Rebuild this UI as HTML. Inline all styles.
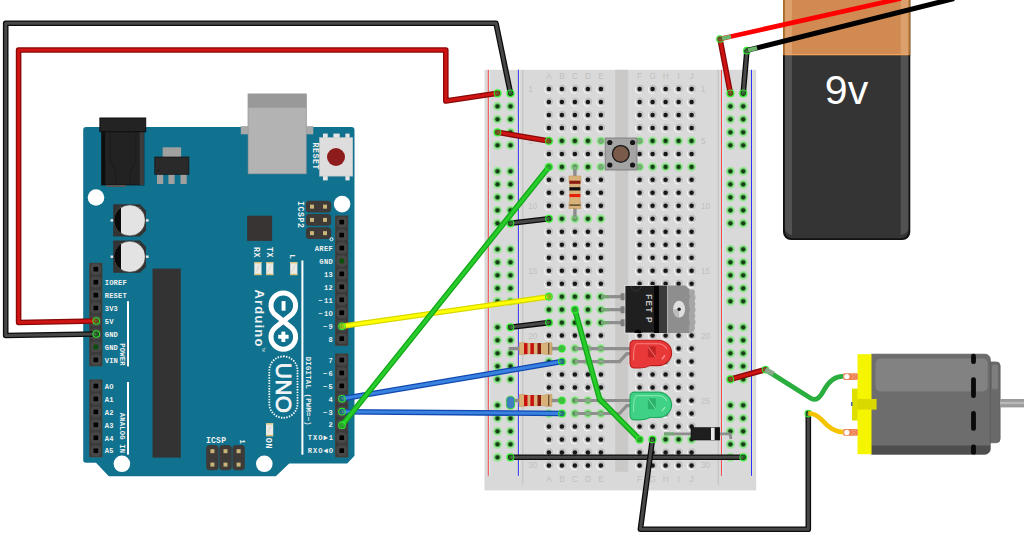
<!DOCTYPE html>
<html><head><meta charset="utf-8"><style>
html,body{margin:0;padding:0;background:#fff;width:1024px;height:537px;overflow:hidden}
svg{display:block}
</style></head><body>
<svg width="1024" height="537" viewBox="0 0 1024 537">
<rect width="1024" height="537" fill="#fff"/>
<rect x="484.5" y="69.8" width="271.7" height="420.6" fill="#d9d9d9"/>
<rect x="522" y="69.8" width="1.4" height="415" fill="#c6c6c6"/>
<rect x="717.6" y="69.8" width="1.4" height="415" fill="#c6c6c6"/>
<rect x="615.2" y="69.8" width="13" height="402" fill="#cbc9c7"/>
<rect x="487.8" y="69.8" width="1" height="406" fill="#ff4646"/>
<rect x="517.9" y="69.8" width="1" height="406" fill="#3030ff"/>
<rect x="721" y="69.8" width="1" height="406" fill="#ff4646"/>
<rect x="751" y="69.8" width="1" height="406" fill="#3030ff"/>
<rect x="489.2" y="69.8" width="1" height="406" fill="#d6eeee"/>
<rect x="519.1" y="69.8" width="1" height="406" fill="#ecead2"/>
<rect x="722.4" y="69.8" width="1" height="406" fill="#d6eeee"/>
<rect x="752.4" y="69.8" width="1" height="406" fill="#ecead2"/>
<g font-family="Liberation Sans, sans-serif" font-size="8.2" fill="#c0c0c0" text-anchor="middle">
<text x="548.9" y="79.4">A</text>
<text x="548.9" y="481.7">A</text>
<text x="561.9" y="79.4">B</text>
<text x="561.9" y="481.7">B</text>
<text x="574.9" y="79.4">C</text>
<text x="574.9" y="481.7">C</text>
<text x="587.9" y="79.4">D</text>
<text x="587.9" y="481.7">D</text>
<text x="600.9" y="79.4">E</text>
<text x="600.9" y="481.7">E</text>
<text x="639.6" y="79.4">F</text>
<text x="639.6" y="481.7">F</text>
<text x="652.6" y="79.4">G</text>
<text x="652.6" y="481.7">G</text>
<text x="665.6" y="79.4">H</text>
<text x="665.6" y="481.7">H</text>
<text x="678.6" y="79.4">I</text>
<text x="678.6" y="481.7">I</text>
<text x="691.6" y="79.4">J</text>
<text x="691.6" y="481.7">J</text>
<text x="528.2" y="92" text-anchor="start">1</text>
<text x="701" y="92" text-anchor="start">1</text>
<text x="528.2" y="143.92" text-anchor="start">5</text>
<text x="701" y="143.92" text-anchor="start">5</text>
<text x="528.2" y="208.82" text-anchor="start">10</text>
<text x="701" y="208.82" text-anchor="start">10</text>
<text x="528.2" y="273.72" text-anchor="start">15</text>
<text x="701" y="273.72" text-anchor="start">15</text>
<text x="528.2" y="338.62" text-anchor="start">20</text>
<text x="701" y="338.62" text-anchor="start">20</text>
<text x="528.2" y="403.52" text-anchor="start">25</text>
<text x="701" y="403.52" text-anchor="start">25</text>
<text x="528.2" y="468.42" text-anchor="start">30</text>
<text x="701" y="468.42" text-anchor="start">30</text>
</g>
<circle cx="548.4" cy="89.5" r="4.2" fill="#f6f6f6"/>
<circle cx="549.2" cy="88.7" r="3.9" fill="#c2c2c2"/>
<circle cx="548.9" cy="89" r="2.25" fill="#161616"/>
<circle cx="561.4" cy="89.5" r="4.2" fill="#f6f6f6"/>
<circle cx="562.2" cy="88.7" r="3.9" fill="#c2c2c2"/>
<circle cx="561.9" cy="89" r="2.25" fill="#161616"/>
<circle cx="574.4" cy="89.5" r="4.2" fill="#f6f6f6"/>
<circle cx="575.2" cy="88.7" r="3.9" fill="#c2c2c2"/>
<circle cx="574.9" cy="89" r="2.25" fill="#161616"/>
<circle cx="587.4" cy="89.5" r="4.2" fill="#f6f6f6"/>
<circle cx="588.2" cy="88.7" r="3.9" fill="#c2c2c2"/>
<circle cx="587.9" cy="89" r="2.25" fill="#161616"/>
<circle cx="600.4" cy="89.5" r="4.2" fill="#f6f6f6"/>
<circle cx="601.2" cy="88.7" r="3.9" fill="#c2c2c2"/>
<circle cx="600.9" cy="89" r="2.25" fill="#161616"/>
<circle cx="639.1" cy="89.5" r="4.2" fill="#f6f6f6"/>
<circle cx="639.9" cy="88.7" r="3.9" fill="#c2c2c2"/>
<circle cx="639.6" cy="89" r="2.25" fill="#161616"/>
<circle cx="652.1" cy="89.5" r="4.2" fill="#f6f6f6"/>
<circle cx="652.9" cy="88.7" r="3.9" fill="#c2c2c2"/>
<circle cx="652.6" cy="89" r="2.25" fill="#161616"/>
<circle cx="665.1" cy="89.5" r="4.2" fill="#f6f6f6"/>
<circle cx="665.9" cy="88.7" r="3.9" fill="#c2c2c2"/>
<circle cx="665.6" cy="89" r="2.25" fill="#161616"/>
<circle cx="678.1" cy="89.5" r="4.2" fill="#f6f6f6"/>
<circle cx="678.9" cy="88.7" r="3.9" fill="#c2c2c2"/>
<circle cx="678.6" cy="89" r="2.25" fill="#161616"/>
<circle cx="691.1" cy="89.5" r="4.2" fill="#f6f6f6"/>
<circle cx="691.9" cy="88.7" r="3.9" fill="#c2c2c2"/>
<circle cx="691.6" cy="89" r="2.25" fill="#161616"/>
<circle cx="548.4" cy="102.48" r="4.2" fill="#f6f6f6"/>
<circle cx="549.2" cy="101.68" r="3.9" fill="#c2c2c2"/>
<circle cx="548.9" cy="101.98" r="2.25" fill="#161616"/>
<circle cx="561.4" cy="102.48" r="4.2" fill="#f6f6f6"/>
<circle cx="562.2" cy="101.68" r="3.9" fill="#c2c2c2"/>
<circle cx="561.9" cy="101.98" r="2.25" fill="#161616"/>
<circle cx="574.4" cy="102.48" r="4.2" fill="#f6f6f6"/>
<circle cx="575.2" cy="101.68" r="3.9" fill="#c2c2c2"/>
<circle cx="574.9" cy="101.98" r="2.25" fill="#161616"/>
<circle cx="587.4" cy="102.48" r="4.2" fill="#f6f6f6"/>
<circle cx="588.2" cy="101.68" r="3.9" fill="#c2c2c2"/>
<circle cx="587.9" cy="101.98" r="2.25" fill="#161616"/>
<circle cx="600.4" cy="102.48" r="4.2" fill="#f6f6f6"/>
<circle cx="601.2" cy="101.68" r="3.9" fill="#c2c2c2"/>
<circle cx="600.9" cy="101.98" r="2.25" fill="#161616"/>
<circle cx="639.1" cy="102.48" r="4.2" fill="#f6f6f6"/>
<circle cx="639.9" cy="101.68" r="3.9" fill="#c2c2c2"/>
<circle cx="639.6" cy="101.98" r="2.25" fill="#161616"/>
<circle cx="652.1" cy="102.48" r="4.2" fill="#f6f6f6"/>
<circle cx="652.9" cy="101.68" r="3.9" fill="#c2c2c2"/>
<circle cx="652.6" cy="101.98" r="2.25" fill="#161616"/>
<circle cx="665.1" cy="102.48" r="4.2" fill="#f6f6f6"/>
<circle cx="665.9" cy="101.68" r="3.9" fill="#c2c2c2"/>
<circle cx="665.6" cy="101.98" r="2.25" fill="#161616"/>
<circle cx="678.1" cy="102.48" r="4.2" fill="#f6f6f6"/>
<circle cx="678.9" cy="101.68" r="3.9" fill="#c2c2c2"/>
<circle cx="678.6" cy="101.98" r="2.25" fill="#161616"/>
<circle cx="691.1" cy="102.48" r="4.2" fill="#f6f6f6"/>
<circle cx="691.9" cy="101.68" r="3.9" fill="#c2c2c2"/>
<circle cx="691.6" cy="101.98" r="2.25" fill="#161616"/>
<circle cx="548.4" cy="115.46" r="4.2" fill="#f6f6f6"/>
<circle cx="549.2" cy="114.66" r="3.9" fill="#c2c2c2"/>
<circle cx="548.9" cy="114.96" r="2.25" fill="#161616"/>
<circle cx="561.4" cy="115.46" r="4.2" fill="#f6f6f6"/>
<circle cx="562.2" cy="114.66" r="3.9" fill="#c2c2c2"/>
<circle cx="561.9" cy="114.96" r="2.25" fill="#161616"/>
<circle cx="574.4" cy="115.46" r="4.2" fill="#f6f6f6"/>
<circle cx="575.2" cy="114.66" r="3.9" fill="#c2c2c2"/>
<circle cx="574.9" cy="114.96" r="2.25" fill="#161616"/>
<circle cx="587.4" cy="115.46" r="4.2" fill="#f6f6f6"/>
<circle cx="588.2" cy="114.66" r="3.9" fill="#c2c2c2"/>
<circle cx="587.9" cy="114.96" r="2.25" fill="#161616"/>
<circle cx="600.4" cy="115.46" r="4.2" fill="#f6f6f6"/>
<circle cx="601.2" cy="114.66" r="3.9" fill="#c2c2c2"/>
<circle cx="600.9" cy="114.96" r="2.25" fill="#161616"/>
<circle cx="639.1" cy="115.46" r="4.2" fill="#f6f6f6"/>
<circle cx="639.9" cy="114.66" r="3.9" fill="#c2c2c2"/>
<circle cx="639.6" cy="114.96" r="2.25" fill="#161616"/>
<circle cx="652.1" cy="115.46" r="4.2" fill="#f6f6f6"/>
<circle cx="652.9" cy="114.66" r="3.9" fill="#c2c2c2"/>
<circle cx="652.6" cy="114.96" r="2.25" fill="#161616"/>
<circle cx="665.1" cy="115.46" r="4.2" fill="#f6f6f6"/>
<circle cx="665.9" cy="114.66" r="3.9" fill="#c2c2c2"/>
<circle cx="665.6" cy="114.96" r="2.25" fill="#161616"/>
<circle cx="678.1" cy="115.46" r="4.2" fill="#f6f6f6"/>
<circle cx="678.9" cy="114.66" r="3.9" fill="#c2c2c2"/>
<circle cx="678.6" cy="114.96" r="2.25" fill="#161616"/>
<circle cx="691.1" cy="115.46" r="4.2" fill="#f6f6f6"/>
<circle cx="691.9" cy="114.66" r="3.9" fill="#c2c2c2"/>
<circle cx="691.6" cy="114.96" r="2.25" fill="#161616"/>
<circle cx="548.4" cy="128.44" r="4.2" fill="#f6f6f6"/>
<circle cx="549.2" cy="127.64" r="3.9" fill="#c2c2c2"/>
<circle cx="548.9" cy="127.94" r="2.25" fill="#161616"/>
<circle cx="561.4" cy="128.44" r="4.2" fill="#f6f6f6"/>
<circle cx="562.2" cy="127.64" r="3.9" fill="#c2c2c2"/>
<circle cx="561.9" cy="127.94" r="2.25" fill="#161616"/>
<circle cx="574.4" cy="128.44" r="4.2" fill="#f6f6f6"/>
<circle cx="575.2" cy="127.64" r="3.9" fill="#c2c2c2"/>
<circle cx="574.9" cy="127.94" r="2.25" fill="#161616"/>
<circle cx="587.4" cy="128.44" r="4.2" fill="#f6f6f6"/>
<circle cx="588.2" cy="127.64" r="3.9" fill="#c2c2c2"/>
<circle cx="587.9" cy="127.94" r="2.25" fill="#161616"/>
<circle cx="600.4" cy="128.44" r="4.2" fill="#f6f6f6"/>
<circle cx="601.2" cy="127.64" r="3.9" fill="#c2c2c2"/>
<circle cx="600.9" cy="127.94" r="2.25" fill="#161616"/>
<circle cx="639.1" cy="128.44" r="4.2" fill="#f6f6f6"/>
<circle cx="639.9" cy="127.64" r="3.9" fill="#c2c2c2"/>
<circle cx="639.6" cy="127.94" r="2.25" fill="#161616"/>
<circle cx="652.1" cy="128.44" r="4.2" fill="#f6f6f6"/>
<circle cx="652.9" cy="127.64" r="3.9" fill="#c2c2c2"/>
<circle cx="652.6" cy="127.94" r="2.25" fill="#161616"/>
<circle cx="665.1" cy="128.44" r="4.2" fill="#f6f6f6"/>
<circle cx="665.9" cy="127.64" r="3.9" fill="#c2c2c2"/>
<circle cx="665.6" cy="127.94" r="2.25" fill="#161616"/>
<circle cx="678.1" cy="128.44" r="4.2" fill="#f6f6f6"/>
<circle cx="678.9" cy="127.64" r="3.9" fill="#c2c2c2"/>
<circle cx="678.6" cy="127.94" r="2.25" fill="#161616"/>
<circle cx="691.1" cy="128.44" r="4.2" fill="#f6f6f6"/>
<circle cx="691.9" cy="127.64" r="3.9" fill="#c2c2c2"/>
<circle cx="691.6" cy="127.94" r="2.25" fill="#161616"/>
<circle cx="548.9" cy="140.92" r="4.5" fill="#9ae896"/>
<circle cx="548.9" cy="140.92" r="3.0" fill="#62b862"/>
<circle cx="548.9" cy="140.92" r="2.1" fill="#173d17"/>
<circle cx="561.9" cy="140.92" r="4.5" fill="#9ae896"/>
<circle cx="561.9" cy="140.92" r="3.0" fill="#62b862"/>
<circle cx="561.9" cy="140.92" r="2.1" fill="#173d17"/>
<circle cx="574.9" cy="140.92" r="4.5" fill="#9ae896"/>
<circle cx="574.9" cy="140.92" r="3.0" fill="#62b862"/>
<circle cx="574.9" cy="140.92" r="2.1" fill="#173d17"/>
<circle cx="587.9" cy="140.92" r="4.5" fill="#9ae896"/>
<circle cx="587.9" cy="140.92" r="3.0" fill="#62b862"/>
<circle cx="587.9" cy="140.92" r="2.1" fill="#173d17"/>
<circle cx="600.9" cy="140.92" r="4.5" fill="#9ae896"/>
<circle cx="600.9" cy="140.92" r="3.0" fill="#62b862"/>
<circle cx="600.9" cy="140.92" r="2.1" fill="#173d17"/>
<circle cx="639.6" cy="140.92" r="4.5" fill="#9ae896"/>
<circle cx="639.6" cy="140.92" r="3.0" fill="#62b862"/>
<circle cx="639.6" cy="140.92" r="2.1" fill="#173d17"/>
<circle cx="652.6" cy="140.92" r="4.5" fill="#9ae896"/>
<circle cx="652.6" cy="140.92" r="3.0" fill="#62b862"/>
<circle cx="652.6" cy="140.92" r="2.1" fill="#173d17"/>
<circle cx="665.6" cy="140.92" r="4.5" fill="#9ae896"/>
<circle cx="665.6" cy="140.92" r="3.0" fill="#62b862"/>
<circle cx="665.6" cy="140.92" r="2.1" fill="#173d17"/>
<circle cx="678.6" cy="140.92" r="4.5" fill="#9ae896"/>
<circle cx="678.6" cy="140.92" r="3.0" fill="#62b862"/>
<circle cx="678.6" cy="140.92" r="2.1" fill="#173d17"/>
<circle cx="691.6" cy="140.92" r="4.5" fill="#9ae896"/>
<circle cx="691.6" cy="140.92" r="3.0" fill="#62b862"/>
<circle cx="691.6" cy="140.92" r="2.1" fill="#173d17"/>
<circle cx="548.4" cy="154.4" r="4.2" fill="#f6f6f6"/>
<circle cx="549.2" cy="153.6" r="3.9" fill="#c2c2c2"/>
<circle cx="548.9" cy="153.9" r="2.25" fill="#161616"/>
<circle cx="561.4" cy="154.4" r="4.2" fill="#f6f6f6"/>
<circle cx="562.2" cy="153.6" r="3.9" fill="#c2c2c2"/>
<circle cx="561.9" cy="153.9" r="2.25" fill="#161616"/>
<circle cx="574.4" cy="154.4" r="4.2" fill="#f6f6f6"/>
<circle cx="575.2" cy="153.6" r="3.9" fill="#c2c2c2"/>
<circle cx="574.9" cy="153.9" r="2.25" fill="#161616"/>
<circle cx="587.4" cy="154.4" r="4.2" fill="#f6f6f6"/>
<circle cx="588.2" cy="153.6" r="3.9" fill="#c2c2c2"/>
<circle cx="587.9" cy="153.9" r="2.25" fill="#161616"/>
<circle cx="600.4" cy="154.4" r="4.2" fill="#f6f6f6"/>
<circle cx="601.2" cy="153.6" r="3.9" fill="#c2c2c2"/>
<circle cx="600.9" cy="153.9" r="2.25" fill="#161616"/>
<circle cx="639.1" cy="154.4" r="4.2" fill="#f6f6f6"/>
<circle cx="639.9" cy="153.6" r="3.9" fill="#c2c2c2"/>
<circle cx="639.6" cy="153.9" r="2.25" fill="#161616"/>
<circle cx="652.1" cy="154.4" r="4.2" fill="#f6f6f6"/>
<circle cx="652.9" cy="153.6" r="3.9" fill="#c2c2c2"/>
<circle cx="652.6" cy="153.9" r="2.25" fill="#161616"/>
<circle cx="665.1" cy="154.4" r="4.2" fill="#f6f6f6"/>
<circle cx="665.9" cy="153.6" r="3.9" fill="#c2c2c2"/>
<circle cx="665.6" cy="153.9" r="2.25" fill="#161616"/>
<circle cx="678.1" cy="154.4" r="4.2" fill="#f6f6f6"/>
<circle cx="678.9" cy="153.6" r="3.9" fill="#c2c2c2"/>
<circle cx="678.6" cy="153.9" r="2.25" fill="#161616"/>
<circle cx="691.1" cy="154.4" r="4.2" fill="#f6f6f6"/>
<circle cx="691.9" cy="153.6" r="3.9" fill="#c2c2c2"/>
<circle cx="691.6" cy="153.9" r="2.25" fill="#161616"/>
<circle cx="548.9" cy="166.88" r="4.5" fill="#9ae896"/>
<circle cx="548.9" cy="166.88" r="3.0" fill="#62b862"/>
<circle cx="548.9" cy="166.88" r="2.1" fill="#173d17"/>
<circle cx="561.9" cy="166.88" r="4.5" fill="#9ae896"/>
<circle cx="561.9" cy="166.88" r="3.0" fill="#62b862"/>
<circle cx="561.9" cy="166.88" r="2.1" fill="#173d17"/>
<circle cx="574.9" cy="166.88" r="4.5" fill="#9ae896"/>
<circle cx="574.9" cy="166.88" r="3.0" fill="#62b862"/>
<circle cx="574.9" cy="166.88" r="2.1" fill="#173d17"/>
<circle cx="587.9" cy="166.88" r="4.5" fill="#9ae896"/>
<circle cx="587.9" cy="166.88" r="3.0" fill="#62b862"/>
<circle cx="587.9" cy="166.88" r="2.1" fill="#173d17"/>
<circle cx="600.9" cy="166.88" r="4.5" fill="#9ae896"/>
<circle cx="600.9" cy="166.88" r="3.0" fill="#62b862"/>
<circle cx="600.9" cy="166.88" r="2.1" fill="#173d17"/>
<circle cx="639.6" cy="166.88" r="4.5" fill="#9ae896"/>
<circle cx="639.6" cy="166.88" r="3.0" fill="#62b862"/>
<circle cx="639.6" cy="166.88" r="2.1" fill="#173d17"/>
<circle cx="652.6" cy="166.88" r="4.5" fill="#9ae896"/>
<circle cx="652.6" cy="166.88" r="3.0" fill="#62b862"/>
<circle cx="652.6" cy="166.88" r="2.1" fill="#173d17"/>
<circle cx="665.6" cy="166.88" r="4.5" fill="#9ae896"/>
<circle cx="665.6" cy="166.88" r="3.0" fill="#62b862"/>
<circle cx="665.6" cy="166.88" r="2.1" fill="#173d17"/>
<circle cx="678.6" cy="166.88" r="4.5" fill="#9ae896"/>
<circle cx="678.6" cy="166.88" r="3.0" fill="#62b862"/>
<circle cx="678.6" cy="166.88" r="2.1" fill="#173d17"/>
<circle cx="691.6" cy="166.88" r="4.5" fill="#9ae896"/>
<circle cx="691.6" cy="166.88" r="3.0" fill="#62b862"/>
<circle cx="691.6" cy="166.88" r="2.1" fill="#173d17"/>
<circle cx="548.4" cy="180.36" r="4.2" fill="#f6f6f6"/>
<circle cx="549.2" cy="179.56" r="3.9" fill="#c2c2c2"/>
<circle cx="548.9" cy="179.86" r="2.25" fill="#161616"/>
<circle cx="561.4" cy="180.36" r="4.2" fill="#f6f6f6"/>
<circle cx="562.2" cy="179.56" r="3.9" fill="#c2c2c2"/>
<circle cx="561.9" cy="179.86" r="2.25" fill="#161616"/>
<circle cx="574.4" cy="180.36" r="4.2" fill="#f6f6f6"/>
<circle cx="575.2" cy="179.56" r="3.9" fill="#c2c2c2"/>
<circle cx="574.9" cy="179.86" r="2.25" fill="#161616"/>
<circle cx="587.4" cy="180.36" r="4.2" fill="#f6f6f6"/>
<circle cx="588.2" cy="179.56" r="3.9" fill="#c2c2c2"/>
<circle cx="587.9" cy="179.86" r="2.25" fill="#161616"/>
<circle cx="600.4" cy="180.36" r="4.2" fill="#f6f6f6"/>
<circle cx="601.2" cy="179.56" r="3.9" fill="#c2c2c2"/>
<circle cx="600.9" cy="179.86" r="2.25" fill="#161616"/>
<circle cx="639.1" cy="180.36" r="4.2" fill="#f6f6f6"/>
<circle cx="639.9" cy="179.56" r="3.9" fill="#c2c2c2"/>
<circle cx="639.6" cy="179.86" r="2.25" fill="#161616"/>
<circle cx="652.1" cy="180.36" r="4.2" fill="#f6f6f6"/>
<circle cx="652.9" cy="179.56" r="3.9" fill="#c2c2c2"/>
<circle cx="652.6" cy="179.86" r="2.25" fill="#161616"/>
<circle cx="665.1" cy="180.36" r="4.2" fill="#f6f6f6"/>
<circle cx="665.9" cy="179.56" r="3.9" fill="#c2c2c2"/>
<circle cx="665.6" cy="179.86" r="2.25" fill="#161616"/>
<circle cx="678.1" cy="180.36" r="4.2" fill="#f6f6f6"/>
<circle cx="678.9" cy="179.56" r="3.9" fill="#c2c2c2"/>
<circle cx="678.6" cy="179.86" r="2.25" fill="#161616"/>
<circle cx="691.1" cy="180.36" r="4.2" fill="#f6f6f6"/>
<circle cx="691.9" cy="179.56" r="3.9" fill="#c2c2c2"/>
<circle cx="691.6" cy="179.86" r="2.25" fill="#161616"/>
<circle cx="548.4" cy="193.34" r="4.2" fill="#f6f6f6"/>
<circle cx="549.2" cy="192.54" r="3.9" fill="#c2c2c2"/>
<circle cx="548.9" cy="192.84" r="2.25" fill="#161616"/>
<circle cx="561.4" cy="193.34" r="4.2" fill="#f6f6f6"/>
<circle cx="562.2" cy="192.54" r="3.9" fill="#c2c2c2"/>
<circle cx="561.9" cy="192.84" r="2.25" fill="#161616"/>
<circle cx="574.4" cy="193.34" r="4.2" fill="#f6f6f6"/>
<circle cx="575.2" cy="192.54" r="3.9" fill="#c2c2c2"/>
<circle cx="574.9" cy="192.84" r="2.25" fill="#161616"/>
<circle cx="587.4" cy="193.34" r="4.2" fill="#f6f6f6"/>
<circle cx="588.2" cy="192.54" r="3.9" fill="#c2c2c2"/>
<circle cx="587.9" cy="192.84" r="2.25" fill="#161616"/>
<circle cx="600.4" cy="193.34" r="4.2" fill="#f6f6f6"/>
<circle cx="601.2" cy="192.54" r="3.9" fill="#c2c2c2"/>
<circle cx="600.9" cy="192.84" r="2.25" fill="#161616"/>
<circle cx="639.1" cy="193.34" r="4.2" fill="#f6f6f6"/>
<circle cx="639.9" cy="192.54" r="3.9" fill="#c2c2c2"/>
<circle cx="639.6" cy="192.84" r="2.25" fill="#161616"/>
<circle cx="652.1" cy="193.34" r="4.2" fill="#f6f6f6"/>
<circle cx="652.9" cy="192.54" r="3.9" fill="#c2c2c2"/>
<circle cx="652.6" cy="192.84" r="2.25" fill="#161616"/>
<circle cx="665.1" cy="193.34" r="4.2" fill="#f6f6f6"/>
<circle cx="665.9" cy="192.54" r="3.9" fill="#c2c2c2"/>
<circle cx="665.6" cy="192.84" r="2.25" fill="#161616"/>
<circle cx="678.1" cy="193.34" r="4.2" fill="#f6f6f6"/>
<circle cx="678.9" cy="192.54" r="3.9" fill="#c2c2c2"/>
<circle cx="678.6" cy="192.84" r="2.25" fill="#161616"/>
<circle cx="691.1" cy="193.34" r="4.2" fill="#f6f6f6"/>
<circle cx="691.9" cy="192.54" r="3.9" fill="#c2c2c2"/>
<circle cx="691.6" cy="192.84" r="2.25" fill="#161616"/>
<circle cx="548.4" cy="206.32" r="4.2" fill="#f6f6f6"/>
<circle cx="549.2" cy="205.52" r="3.9" fill="#c2c2c2"/>
<circle cx="548.9" cy="205.82" r="2.25" fill="#161616"/>
<circle cx="561.4" cy="206.32" r="4.2" fill="#f6f6f6"/>
<circle cx="562.2" cy="205.52" r="3.9" fill="#c2c2c2"/>
<circle cx="561.9" cy="205.82" r="2.25" fill="#161616"/>
<circle cx="574.4" cy="206.32" r="4.2" fill="#f6f6f6"/>
<circle cx="575.2" cy="205.52" r="3.9" fill="#c2c2c2"/>
<circle cx="574.9" cy="205.82" r="2.25" fill="#161616"/>
<circle cx="587.4" cy="206.32" r="4.2" fill="#f6f6f6"/>
<circle cx="588.2" cy="205.52" r="3.9" fill="#c2c2c2"/>
<circle cx="587.9" cy="205.82" r="2.25" fill="#161616"/>
<circle cx="600.4" cy="206.32" r="4.2" fill="#f6f6f6"/>
<circle cx="601.2" cy="205.52" r="3.9" fill="#c2c2c2"/>
<circle cx="600.9" cy="205.82" r="2.25" fill="#161616"/>
<circle cx="639.1" cy="206.32" r="4.2" fill="#f6f6f6"/>
<circle cx="639.9" cy="205.52" r="3.9" fill="#c2c2c2"/>
<circle cx="639.6" cy="205.82" r="2.25" fill="#161616"/>
<circle cx="652.1" cy="206.32" r="4.2" fill="#f6f6f6"/>
<circle cx="652.9" cy="205.52" r="3.9" fill="#c2c2c2"/>
<circle cx="652.6" cy="205.82" r="2.25" fill="#161616"/>
<circle cx="665.1" cy="206.32" r="4.2" fill="#f6f6f6"/>
<circle cx="665.9" cy="205.52" r="3.9" fill="#c2c2c2"/>
<circle cx="665.6" cy="205.82" r="2.25" fill="#161616"/>
<circle cx="678.1" cy="206.32" r="4.2" fill="#f6f6f6"/>
<circle cx="678.9" cy="205.52" r="3.9" fill="#c2c2c2"/>
<circle cx="678.6" cy="205.82" r="2.25" fill="#161616"/>
<circle cx="691.1" cy="206.32" r="4.2" fill="#f6f6f6"/>
<circle cx="691.9" cy="205.52" r="3.9" fill="#c2c2c2"/>
<circle cx="691.6" cy="205.82" r="2.25" fill="#161616"/>
<circle cx="548.9" cy="218.8" r="4.5" fill="#9ae896"/>
<circle cx="548.9" cy="218.8" r="3.0" fill="#62b862"/>
<circle cx="548.9" cy="218.8" r="2.1" fill="#173d17"/>
<circle cx="561.9" cy="218.8" r="4.5" fill="#9ae896"/>
<circle cx="561.9" cy="218.8" r="3.0" fill="#62b862"/>
<circle cx="561.9" cy="218.8" r="2.1" fill="#173d17"/>
<circle cx="574.9" cy="218.8" r="4.5" fill="#9ae896"/>
<circle cx="574.9" cy="218.8" r="3.0" fill="#62b862"/>
<circle cx="574.9" cy="218.8" r="2.1" fill="#173d17"/>
<circle cx="587.9" cy="218.8" r="4.5" fill="#9ae896"/>
<circle cx="587.9" cy="218.8" r="3.0" fill="#62b862"/>
<circle cx="587.9" cy="218.8" r="2.1" fill="#173d17"/>
<circle cx="600.9" cy="218.8" r="4.5" fill="#9ae896"/>
<circle cx="600.9" cy="218.8" r="3.0" fill="#62b862"/>
<circle cx="600.9" cy="218.8" r="2.1" fill="#173d17"/>
<circle cx="639.1" cy="219.3" r="4.2" fill="#f6f6f6"/>
<circle cx="639.9" cy="218.5" r="3.9" fill="#c2c2c2"/>
<circle cx="639.6" cy="218.8" r="2.25" fill="#161616"/>
<circle cx="652.1" cy="219.3" r="4.2" fill="#f6f6f6"/>
<circle cx="652.9" cy="218.5" r="3.9" fill="#c2c2c2"/>
<circle cx="652.6" cy="218.8" r="2.25" fill="#161616"/>
<circle cx="665.1" cy="219.3" r="4.2" fill="#f6f6f6"/>
<circle cx="665.9" cy="218.5" r="3.9" fill="#c2c2c2"/>
<circle cx="665.6" cy="218.8" r="2.25" fill="#161616"/>
<circle cx="678.1" cy="219.3" r="4.2" fill="#f6f6f6"/>
<circle cx="678.9" cy="218.5" r="3.9" fill="#c2c2c2"/>
<circle cx="678.6" cy="218.8" r="2.25" fill="#161616"/>
<circle cx="691.1" cy="219.3" r="4.2" fill="#f6f6f6"/>
<circle cx="691.9" cy="218.5" r="3.9" fill="#c2c2c2"/>
<circle cx="691.6" cy="218.8" r="2.25" fill="#161616"/>
<circle cx="548.4" cy="232.28" r="4.2" fill="#f6f6f6"/>
<circle cx="549.2" cy="231.48" r="3.9" fill="#c2c2c2"/>
<circle cx="548.9" cy="231.78" r="2.25" fill="#161616"/>
<circle cx="561.4" cy="232.28" r="4.2" fill="#f6f6f6"/>
<circle cx="562.2" cy="231.48" r="3.9" fill="#c2c2c2"/>
<circle cx="561.9" cy="231.78" r="2.25" fill="#161616"/>
<circle cx="574.4" cy="232.28" r="4.2" fill="#f6f6f6"/>
<circle cx="575.2" cy="231.48" r="3.9" fill="#c2c2c2"/>
<circle cx="574.9" cy="231.78" r="2.25" fill="#161616"/>
<circle cx="587.4" cy="232.28" r="4.2" fill="#f6f6f6"/>
<circle cx="588.2" cy="231.48" r="3.9" fill="#c2c2c2"/>
<circle cx="587.9" cy="231.78" r="2.25" fill="#161616"/>
<circle cx="600.4" cy="232.28" r="4.2" fill="#f6f6f6"/>
<circle cx="601.2" cy="231.48" r="3.9" fill="#c2c2c2"/>
<circle cx="600.9" cy="231.78" r="2.25" fill="#161616"/>
<circle cx="639.1" cy="232.28" r="4.2" fill="#f6f6f6"/>
<circle cx="639.9" cy="231.48" r="3.9" fill="#c2c2c2"/>
<circle cx="639.6" cy="231.78" r="2.25" fill="#161616"/>
<circle cx="652.1" cy="232.28" r="4.2" fill="#f6f6f6"/>
<circle cx="652.9" cy="231.48" r="3.9" fill="#c2c2c2"/>
<circle cx="652.6" cy="231.78" r="2.25" fill="#161616"/>
<circle cx="665.1" cy="232.28" r="4.2" fill="#f6f6f6"/>
<circle cx="665.9" cy="231.48" r="3.9" fill="#c2c2c2"/>
<circle cx="665.6" cy="231.78" r="2.25" fill="#161616"/>
<circle cx="678.1" cy="232.28" r="4.2" fill="#f6f6f6"/>
<circle cx="678.9" cy="231.48" r="3.9" fill="#c2c2c2"/>
<circle cx="678.6" cy="231.78" r="2.25" fill="#161616"/>
<circle cx="691.1" cy="232.28" r="4.2" fill="#f6f6f6"/>
<circle cx="691.9" cy="231.48" r="3.9" fill="#c2c2c2"/>
<circle cx="691.6" cy="231.78" r="2.25" fill="#161616"/>
<circle cx="548.4" cy="245.26" r="4.2" fill="#f6f6f6"/>
<circle cx="549.2" cy="244.46" r="3.9" fill="#c2c2c2"/>
<circle cx="548.9" cy="244.76" r="2.25" fill="#161616"/>
<circle cx="561.4" cy="245.26" r="4.2" fill="#f6f6f6"/>
<circle cx="562.2" cy="244.46" r="3.9" fill="#c2c2c2"/>
<circle cx="561.9" cy="244.76" r="2.25" fill="#161616"/>
<circle cx="574.4" cy="245.26" r="4.2" fill="#f6f6f6"/>
<circle cx="575.2" cy="244.46" r="3.9" fill="#c2c2c2"/>
<circle cx="574.9" cy="244.76" r="2.25" fill="#161616"/>
<circle cx="587.4" cy="245.26" r="4.2" fill="#f6f6f6"/>
<circle cx="588.2" cy="244.46" r="3.9" fill="#c2c2c2"/>
<circle cx="587.9" cy="244.76" r="2.25" fill="#161616"/>
<circle cx="600.4" cy="245.26" r="4.2" fill="#f6f6f6"/>
<circle cx="601.2" cy="244.46" r="3.9" fill="#c2c2c2"/>
<circle cx="600.9" cy="244.76" r="2.25" fill="#161616"/>
<circle cx="639.1" cy="245.26" r="4.2" fill="#f6f6f6"/>
<circle cx="639.9" cy="244.46" r="3.9" fill="#c2c2c2"/>
<circle cx="639.6" cy="244.76" r="2.25" fill="#161616"/>
<circle cx="652.1" cy="245.26" r="4.2" fill="#f6f6f6"/>
<circle cx="652.9" cy="244.46" r="3.9" fill="#c2c2c2"/>
<circle cx="652.6" cy="244.76" r="2.25" fill="#161616"/>
<circle cx="665.1" cy="245.26" r="4.2" fill="#f6f6f6"/>
<circle cx="665.9" cy="244.46" r="3.9" fill="#c2c2c2"/>
<circle cx="665.6" cy="244.76" r="2.25" fill="#161616"/>
<circle cx="678.1" cy="245.26" r="4.2" fill="#f6f6f6"/>
<circle cx="678.9" cy="244.46" r="3.9" fill="#c2c2c2"/>
<circle cx="678.6" cy="244.76" r="2.25" fill="#161616"/>
<circle cx="691.1" cy="245.26" r="4.2" fill="#f6f6f6"/>
<circle cx="691.9" cy="244.46" r="3.9" fill="#c2c2c2"/>
<circle cx="691.6" cy="244.76" r="2.25" fill="#161616"/>
<circle cx="548.4" cy="258.24" r="4.2" fill="#f6f6f6"/>
<circle cx="549.2" cy="257.44" r="3.9" fill="#c2c2c2"/>
<circle cx="548.9" cy="257.74" r="2.25" fill="#161616"/>
<circle cx="561.4" cy="258.24" r="4.2" fill="#f6f6f6"/>
<circle cx="562.2" cy="257.44" r="3.9" fill="#c2c2c2"/>
<circle cx="561.9" cy="257.74" r="2.25" fill="#161616"/>
<circle cx="574.4" cy="258.24" r="4.2" fill="#f6f6f6"/>
<circle cx="575.2" cy="257.44" r="3.9" fill="#c2c2c2"/>
<circle cx="574.9" cy="257.74" r="2.25" fill="#161616"/>
<circle cx="587.4" cy="258.24" r="4.2" fill="#f6f6f6"/>
<circle cx="588.2" cy="257.44" r="3.9" fill="#c2c2c2"/>
<circle cx="587.9" cy="257.74" r="2.25" fill="#161616"/>
<circle cx="600.4" cy="258.24" r="4.2" fill="#f6f6f6"/>
<circle cx="601.2" cy="257.44" r="3.9" fill="#c2c2c2"/>
<circle cx="600.9" cy="257.74" r="2.25" fill="#161616"/>
<circle cx="639.1" cy="258.24" r="4.2" fill="#f6f6f6"/>
<circle cx="639.9" cy="257.44" r="3.9" fill="#c2c2c2"/>
<circle cx="639.6" cy="257.74" r="2.25" fill="#161616"/>
<circle cx="652.1" cy="258.24" r="4.2" fill="#f6f6f6"/>
<circle cx="652.9" cy="257.44" r="3.9" fill="#c2c2c2"/>
<circle cx="652.6" cy="257.74" r="2.25" fill="#161616"/>
<circle cx="665.1" cy="258.24" r="4.2" fill="#f6f6f6"/>
<circle cx="665.9" cy="257.44" r="3.9" fill="#c2c2c2"/>
<circle cx="665.6" cy="257.74" r="2.25" fill="#161616"/>
<circle cx="678.1" cy="258.24" r="4.2" fill="#f6f6f6"/>
<circle cx="678.9" cy="257.44" r="3.9" fill="#c2c2c2"/>
<circle cx="678.6" cy="257.74" r="2.25" fill="#161616"/>
<circle cx="691.1" cy="258.24" r="4.2" fill="#f6f6f6"/>
<circle cx="691.9" cy="257.44" r="3.9" fill="#c2c2c2"/>
<circle cx="691.6" cy="257.74" r="2.25" fill="#161616"/>
<circle cx="548.4" cy="271.22" r="4.2" fill="#f6f6f6"/>
<circle cx="549.2" cy="270.42" r="3.9" fill="#c2c2c2"/>
<circle cx="548.9" cy="270.72" r="2.25" fill="#161616"/>
<circle cx="561.4" cy="271.22" r="4.2" fill="#f6f6f6"/>
<circle cx="562.2" cy="270.42" r="3.9" fill="#c2c2c2"/>
<circle cx="561.9" cy="270.72" r="2.25" fill="#161616"/>
<circle cx="574.4" cy="271.22" r="4.2" fill="#f6f6f6"/>
<circle cx="575.2" cy="270.42" r="3.9" fill="#c2c2c2"/>
<circle cx="574.9" cy="270.72" r="2.25" fill="#161616"/>
<circle cx="587.4" cy="271.22" r="4.2" fill="#f6f6f6"/>
<circle cx="588.2" cy="270.42" r="3.9" fill="#c2c2c2"/>
<circle cx="587.9" cy="270.72" r="2.25" fill="#161616"/>
<circle cx="600.4" cy="271.22" r="4.2" fill="#f6f6f6"/>
<circle cx="601.2" cy="270.42" r="3.9" fill="#c2c2c2"/>
<circle cx="600.9" cy="270.72" r="2.25" fill="#161616"/>
<circle cx="639.1" cy="271.22" r="4.2" fill="#f6f6f6"/>
<circle cx="639.9" cy="270.42" r="3.9" fill="#c2c2c2"/>
<circle cx="639.6" cy="270.72" r="2.25" fill="#161616"/>
<circle cx="652.1" cy="271.22" r="4.2" fill="#f6f6f6"/>
<circle cx="652.9" cy="270.42" r="3.9" fill="#c2c2c2"/>
<circle cx="652.6" cy="270.72" r="2.25" fill="#161616"/>
<circle cx="665.1" cy="271.22" r="4.2" fill="#f6f6f6"/>
<circle cx="665.9" cy="270.42" r="3.9" fill="#c2c2c2"/>
<circle cx="665.6" cy="270.72" r="2.25" fill="#161616"/>
<circle cx="678.1" cy="271.22" r="4.2" fill="#f6f6f6"/>
<circle cx="678.9" cy="270.42" r="3.9" fill="#c2c2c2"/>
<circle cx="678.6" cy="270.72" r="2.25" fill="#161616"/>
<circle cx="691.1" cy="271.22" r="4.2" fill="#f6f6f6"/>
<circle cx="691.9" cy="270.42" r="3.9" fill="#c2c2c2"/>
<circle cx="691.6" cy="270.72" r="2.25" fill="#161616"/>
<circle cx="548.4" cy="284.2" r="4.2" fill="#f6f6f6"/>
<circle cx="549.2" cy="283.4" r="3.9" fill="#c2c2c2"/>
<circle cx="548.9" cy="283.7" r="2.25" fill="#161616"/>
<circle cx="561.4" cy="284.2" r="4.2" fill="#f6f6f6"/>
<circle cx="562.2" cy="283.4" r="3.9" fill="#c2c2c2"/>
<circle cx="561.9" cy="283.7" r="2.25" fill="#161616"/>
<circle cx="574.4" cy="284.2" r="4.2" fill="#f6f6f6"/>
<circle cx="575.2" cy="283.4" r="3.9" fill="#c2c2c2"/>
<circle cx="574.9" cy="283.7" r="2.25" fill="#161616"/>
<circle cx="587.4" cy="284.2" r="4.2" fill="#f6f6f6"/>
<circle cx="588.2" cy="283.4" r="3.9" fill="#c2c2c2"/>
<circle cx="587.9" cy="283.7" r="2.25" fill="#161616"/>
<circle cx="600.4" cy="284.2" r="4.2" fill="#f6f6f6"/>
<circle cx="601.2" cy="283.4" r="3.9" fill="#c2c2c2"/>
<circle cx="600.9" cy="283.7" r="2.25" fill="#161616"/>
<circle cx="639.1" cy="284.2" r="4.2" fill="#f6f6f6"/>
<circle cx="639.9" cy="283.4" r="3.9" fill="#c2c2c2"/>
<circle cx="639.6" cy="283.7" r="2.25" fill="#161616"/>
<circle cx="652.1" cy="284.2" r="4.2" fill="#f6f6f6"/>
<circle cx="652.9" cy="283.4" r="3.9" fill="#c2c2c2"/>
<circle cx="652.6" cy="283.7" r="2.25" fill="#161616"/>
<circle cx="665.1" cy="284.2" r="4.2" fill="#f6f6f6"/>
<circle cx="665.9" cy="283.4" r="3.9" fill="#c2c2c2"/>
<circle cx="665.6" cy="283.7" r="2.25" fill="#161616"/>
<circle cx="678.1" cy="284.2" r="4.2" fill="#f6f6f6"/>
<circle cx="678.9" cy="283.4" r="3.9" fill="#c2c2c2"/>
<circle cx="678.6" cy="283.7" r="2.25" fill="#161616"/>
<circle cx="691.1" cy="284.2" r="4.2" fill="#f6f6f6"/>
<circle cx="691.9" cy="283.4" r="3.9" fill="#c2c2c2"/>
<circle cx="691.6" cy="283.7" r="2.25" fill="#161616"/>
<circle cx="548.9" cy="296.68" r="4.5" fill="#9ae896"/>
<circle cx="548.9" cy="296.68" r="3.0" fill="#62b862"/>
<circle cx="548.9" cy="296.68" r="2.1" fill="#173d17"/>
<circle cx="561.9" cy="296.68" r="4.5" fill="#9ae896"/>
<circle cx="561.9" cy="296.68" r="3.0" fill="#62b862"/>
<circle cx="561.9" cy="296.68" r="2.1" fill="#173d17"/>
<circle cx="574.9" cy="296.68" r="4.5" fill="#9ae896"/>
<circle cx="574.9" cy="296.68" r="3.0" fill="#62b862"/>
<circle cx="574.9" cy="296.68" r="2.1" fill="#173d17"/>
<circle cx="587.9" cy="296.68" r="4.5" fill="#9ae896"/>
<circle cx="587.9" cy="296.68" r="3.0" fill="#62b862"/>
<circle cx="587.9" cy="296.68" r="2.1" fill="#173d17"/>
<circle cx="600.9" cy="296.68" r="4.5" fill="#9ae896"/>
<circle cx="600.9" cy="296.68" r="3.0" fill="#62b862"/>
<circle cx="600.9" cy="296.68" r="2.1" fill="#173d17"/>
<circle cx="639.1" cy="297.18" r="4.2" fill="#f6f6f6"/>
<circle cx="639.9" cy="296.38" r="3.9" fill="#c2c2c2"/>
<circle cx="639.6" cy="296.68" r="2.25" fill="#161616"/>
<circle cx="652.1" cy="297.18" r="4.2" fill="#f6f6f6"/>
<circle cx="652.9" cy="296.38" r="3.9" fill="#c2c2c2"/>
<circle cx="652.6" cy="296.68" r="2.25" fill="#161616"/>
<circle cx="665.1" cy="297.18" r="4.2" fill="#f6f6f6"/>
<circle cx="665.9" cy="296.38" r="3.9" fill="#c2c2c2"/>
<circle cx="665.6" cy="296.68" r="2.25" fill="#161616"/>
<circle cx="678.1" cy="297.18" r="4.2" fill="#f6f6f6"/>
<circle cx="678.9" cy="296.38" r="3.9" fill="#c2c2c2"/>
<circle cx="678.6" cy="296.68" r="2.25" fill="#161616"/>
<circle cx="691.1" cy="297.18" r="4.2" fill="#f6f6f6"/>
<circle cx="691.9" cy="296.38" r="3.9" fill="#c2c2c2"/>
<circle cx="691.6" cy="296.68" r="2.25" fill="#161616"/>
<circle cx="548.9" cy="309.66" r="4.5" fill="#9ae896"/>
<circle cx="548.9" cy="309.66" r="3.0" fill="#62b862"/>
<circle cx="548.9" cy="309.66" r="2.1" fill="#173d17"/>
<circle cx="561.9" cy="309.66" r="4.5" fill="#9ae896"/>
<circle cx="561.9" cy="309.66" r="3.0" fill="#62b862"/>
<circle cx="561.9" cy="309.66" r="2.1" fill="#173d17"/>
<circle cx="574.9" cy="309.66" r="4.5" fill="#9ae896"/>
<circle cx="574.9" cy="309.66" r="3.0" fill="#62b862"/>
<circle cx="574.9" cy="309.66" r="2.1" fill="#173d17"/>
<circle cx="587.9" cy="309.66" r="4.5" fill="#9ae896"/>
<circle cx="587.9" cy="309.66" r="3.0" fill="#62b862"/>
<circle cx="587.9" cy="309.66" r="2.1" fill="#173d17"/>
<circle cx="600.9" cy="309.66" r="4.5" fill="#9ae896"/>
<circle cx="600.9" cy="309.66" r="3.0" fill="#62b862"/>
<circle cx="600.9" cy="309.66" r="2.1" fill="#173d17"/>
<circle cx="639.1" cy="310.16" r="4.2" fill="#f6f6f6"/>
<circle cx="639.9" cy="309.36" r="3.9" fill="#c2c2c2"/>
<circle cx="639.6" cy="309.66" r="2.25" fill="#161616"/>
<circle cx="652.1" cy="310.16" r="4.2" fill="#f6f6f6"/>
<circle cx="652.9" cy="309.36" r="3.9" fill="#c2c2c2"/>
<circle cx="652.6" cy="309.66" r="2.25" fill="#161616"/>
<circle cx="665.1" cy="310.16" r="4.2" fill="#f6f6f6"/>
<circle cx="665.9" cy="309.36" r="3.9" fill="#c2c2c2"/>
<circle cx="665.6" cy="309.66" r="2.25" fill="#161616"/>
<circle cx="678.1" cy="310.16" r="4.2" fill="#f6f6f6"/>
<circle cx="678.9" cy="309.36" r="3.9" fill="#c2c2c2"/>
<circle cx="678.6" cy="309.66" r="2.25" fill="#161616"/>
<circle cx="691.1" cy="310.16" r="4.2" fill="#f6f6f6"/>
<circle cx="691.9" cy="309.36" r="3.9" fill="#c2c2c2"/>
<circle cx="691.6" cy="309.66" r="2.25" fill="#161616"/>
<circle cx="548.9" cy="322.64" r="4.5" fill="#9ae896"/>
<circle cx="548.9" cy="322.64" r="3.0" fill="#62b862"/>
<circle cx="548.9" cy="322.64" r="2.1" fill="#173d17"/>
<circle cx="561.9" cy="322.64" r="4.5" fill="#9ae896"/>
<circle cx="561.9" cy="322.64" r="3.0" fill="#62b862"/>
<circle cx="561.9" cy="322.64" r="2.1" fill="#173d17"/>
<circle cx="574.9" cy="322.64" r="4.5" fill="#9ae896"/>
<circle cx="574.9" cy="322.64" r="3.0" fill="#62b862"/>
<circle cx="574.9" cy="322.64" r="2.1" fill="#173d17"/>
<circle cx="587.9" cy="322.64" r="4.5" fill="#9ae896"/>
<circle cx="587.9" cy="322.64" r="3.0" fill="#62b862"/>
<circle cx="587.9" cy="322.64" r="2.1" fill="#173d17"/>
<circle cx="600.9" cy="322.64" r="4.5" fill="#9ae896"/>
<circle cx="600.9" cy="322.64" r="3.0" fill="#62b862"/>
<circle cx="600.9" cy="322.64" r="2.1" fill="#173d17"/>
<circle cx="639.1" cy="323.14" r="4.2" fill="#f6f6f6"/>
<circle cx="639.9" cy="322.34" r="3.9" fill="#c2c2c2"/>
<circle cx="639.6" cy="322.64" r="2.25" fill="#161616"/>
<circle cx="652.1" cy="323.14" r="4.2" fill="#f6f6f6"/>
<circle cx="652.9" cy="322.34" r="3.9" fill="#c2c2c2"/>
<circle cx="652.6" cy="322.64" r="2.25" fill="#161616"/>
<circle cx="665.1" cy="323.14" r="4.2" fill="#f6f6f6"/>
<circle cx="665.9" cy="322.34" r="3.9" fill="#c2c2c2"/>
<circle cx="665.6" cy="322.64" r="2.25" fill="#161616"/>
<circle cx="678.1" cy="323.14" r="4.2" fill="#f6f6f6"/>
<circle cx="678.9" cy="322.34" r="3.9" fill="#c2c2c2"/>
<circle cx="678.6" cy="322.64" r="2.25" fill="#161616"/>
<circle cx="691.1" cy="323.14" r="4.2" fill="#f6f6f6"/>
<circle cx="691.9" cy="322.34" r="3.9" fill="#c2c2c2"/>
<circle cx="691.6" cy="322.64" r="2.25" fill="#161616"/>
<circle cx="548.4" cy="336.12" r="4.2" fill="#f6f6f6"/>
<circle cx="549.2" cy="335.32" r="3.9" fill="#c2c2c2"/>
<circle cx="548.9" cy="335.62" r="2.25" fill="#161616"/>
<circle cx="561.4" cy="336.12" r="4.2" fill="#f6f6f6"/>
<circle cx="562.2" cy="335.32" r="3.9" fill="#c2c2c2"/>
<circle cx="561.9" cy="335.62" r="2.25" fill="#161616"/>
<circle cx="574.4" cy="336.12" r="4.2" fill="#f6f6f6"/>
<circle cx="575.2" cy="335.32" r="3.9" fill="#c2c2c2"/>
<circle cx="574.9" cy="335.62" r="2.25" fill="#161616"/>
<circle cx="587.4" cy="336.12" r="4.2" fill="#f6f6f6"/>
<circle cx="588.2" cy="335.32" r="3.9" fill="#c2c2c2"/>
<circle cx="587.9" cy="335.62" r="2.25" fill="#161616"/>
<circle cx="600.4" cy="336.12" r="4.2" fill="#f6f6f6"/>
<circle cx="601.2" cy="335.32" r="3.9" fill="#c2c2c2"/>
<circle cx="600.9" cy="335.62" r="2.25" fill="#161616"/>
<circle cx="639.1" cy="336.12" r="4.2" fill="#f6f6f6"/>
<circle cx="639.9" cy="335.32" r="3.9" fill="#c2c2c2"/>
<circle cx="639.6" cy="335.62" r="2.25" fill="#161616"/>
<circle cx="652.1" cy="336.12" r="4.2" fill="#f6f6f6"/>
<circle cx="652.9" cy="335.32" r="3.9" fill="#c2c2c2"/>
<circle cx="652.6" cy="335.62" r="2.25" fill="#161616"/>
<circle cx="665.1" cy="336.12" r="4.2" fill="#f6f6f6"/>
<circle cx="665.9" cy="335.32" r="3.9" fill="#c2c2c2"/>
<circle cx="665.6" cy="335.62" r="2.25" fill="#161616"/>
<circle cx="678.1" cy="336.12" r="4.2" fill="#f6f6f6"/>
<circle cx="678.9" cy="335.32" r="3.9" fill="#c2c2c2"/>
<circle cx="678.6" cy="335.62" r="2.25" fill="#161616"/>
<circle cx="691.1" cy="336.12" r="4.2" fill="#f6f6f6"/>
<circle cx="691.9" cy="335.32" r="3.9" fill="#c2c2c2"/>
<circle cx="691.6" cy="335.62" r="2.25" fill="#161616"/>
<circle cx="548.9" cy="348.6" r="4.5" fill="#9ae896"/>
<circle cx="548.9" cy="348.6" r="3.0" fill="#62b862"/>
<circle cx="548.9" cy="348.6" r="2.1" fill="#173d17"/>
<circle cx="561.9" cy="348.6" r="4.5" fill="#9ae896"/>
<circle cx="561.9" cy="348.6" r="3.0" fill="#62b862"/>
<circle cx="561.9" cy="348.6" r="2.1" fill="#173d17"/>
<circle cx="574.9" cy="348.6" r="4.5" fill="#9ae896"/>
<circle cx="574.9" cy="348.6" r="3.0" fill="#62b862"/>
<circle cx="574.9" cy="348.6" r="2.1" fill="#173d17"/>
<circle cx="587.9" cy="348.6" r="4.5" fill="#9ae896"/>
<circle cx="587.9" cy="348.6" r="3.0" fill="#62b862"/>
<circle cx="587.9" cy="348.6" r="2.1" fill="#173d17"/>
<circle cx="600.9" cy="348.6" r="4.5" fill="#9ae896"/>
<circle cx="600.9" cy="348.6" r="3.0" fill="#62b862"/>
<circle cx="600.9" cy="348.6" r="2.1" fill="#173d17"/>
<circle cx="639.1" cy="349.1" r="4.2" fill="#f6f6f6"/>
<circle cx="639.9" cy="348.3" r="3.9" fill="#c2c2c2"/>
<circle cx="639.6" cy="348.6" r="2.25" fill="#161616"/>
<circle cx="652.1" cy="349.1" r="4.2" fill="#f6f6f6"/>
<circle cx="652.9" cy="348.3" r="3.9" fill="#c2c2c2"/>
<circle cx="652.6" cy="348.6" r="2.25" fill="#161616"/>
<circle cx="665.1" cy="349.1" r="4.2" fill="#f6f6f6"/>
<circle cx="665.9" cy="348.3" r="3.9" fill="#c2c2c2"/>
<circle cx="665.6" cy="348.6" r="2.25" fill="#161616"/>
<circle cx="678.1" cy="349.1" r="4.2" fill="#f6f6f6"/>
<circle cx="678.9" cy="348.3" r="3.9" fill="#c2c2c2"/>
<circle cx="678.6" cy="348.6" r="2.25" fill="#161616"/>
<circle cx="691.1" cy="349.1" r="4.2" fill="#f6f6f6"/>
<circle cx="691.9" cy="348.3" r="3.9" fill="#c2c2c2"/>
<circle cx="691.6" cy="348.6" r="2.25" fill="#161616"/>
<circle cx="548.9" cy="361.58" r="4.5" fill="#9ae896"/>
<circle cx="548.9" cy="361.58" r="3.0" fill="#62b862"/>
<circle cx="548.9" cy="361.58" r="2.1" fill="#173d17"/>
<circle cx="561.9" cy="361.58" r="4.5" fill="#9ae896"/>
<circle cx="561.9" cy="361.58" r="3.0" fill="#62b862"/>
<circle cx="561.9" cy="361.58" r="2.1" fill="#173d17"/>
<circle cx="574.9" cy="361.58" r="4.5" fill="#9ae896"/>
<circle cx="574.9" cy="361.58" r="3.0" fill="#62b862"/>
<circle cx="574.9" cy="361.58" r="2.1" fill="#173d17"/>
<circle cx="587.9" cy="361.58" r="4.5" fill="#9ae896"/>
<circle cx="587.9" cy="361.58" r="3.0" fill="#62b862"/>
<circle cx="587.9" cy="361.58" r="2.1" fill="#173d17"/>
<circle cx="600.9" cy="361.58" r="4.5" fill="#9ae896"/>
<circle cx="600.9" cy="361.58" r="3.0" fill="#62b862"/>
<circle cx="600.9" cy="361.58" r="2.1" fill="#173d17"/>
<circle cx="639.1" cy="362.08" r="4.2" fill="#f6f6f6"/>
<circle cx="639.9" cy="361.28" r="3.9" fill="#c2c2c2"/>
<circle cx="639.6" cy="361.58" r="2.25" fill="#161616"/>
<circle cx="652.1" cy="362.08" r="4.2" fill="#f6f6f6"/>
<circle cx="652.9" cy="361.28" r="3.9" fill="#c2c2c2"/>
<circle cx="652.6" cy="361.58" r="2.25" fill="#161616"/>
<circle cx="665.1" cy="362.08" r="4.2" fill="#f6f6f6"/>
<circle cx="665.9" cy="361.28" r="3.9" fill="#c2c2c2"/>
<circle cx="665.6" cy="361.58" r="2.25" fill="#161616"/>
<circle cx="678.1" cy="362.08" r="4.2" fill="#f6f6f6"/>
<circle cx="678.9" cy="361.28" r="3.9" fill="#c2c2c2"/>
<circle cx="678.6" cy="361.58" r="2.25" fill="#161616"/>
<circle cx="691.1" cy="362.08" r="4.2" fill="#f6f6f6"/>
<circle cx="691.9" cy="361.28" r="3.9" fill="#c2c2c2"/>
<circle cx="691.6" cy="361.58" r="2.25" fill="#161616"/>
<circle cx="548.4" cy="375.06" r="4.2" fill="#f6f6f6"/>
<circle cx="549.2" cy="374.26" r="3.9" fill="#c2c2c2"/>
<circle cx="548.9" cy="374.56" r="2.25" fill="#161616"/>
<circle cx="561.4" cy="375.06" r="4.2" fill="#f6f6f6"/>
<circle cx="562.2" cy="374.26" r="3.9" fill="#c2c2c2"/>
<circle cx="561.9" cy="374.56" r="2.25" fill="#161616"/>
<circle cx="574.4" cy="375.06" r="4.2" fill="#f6f6f6"/>
<circle cx="575.2" cy="374.26" r="3.9" fill="#c2c2c2"/>
<circle cx="574.9" cy="374.56" r="2.25" fill="#161616"/>
<circle cx="587.4" cy="375.06" r="4.2" fill="#f6f6f6"/>
<circle cx="588.2" cy="374.26" r="3.9" fill="#c2c2c2"/>
<circle cx="587.9" cy="374.56" r="2.25" fill="#161616"/>
<circle cx="600.4" cy="375.06" r="4.2" fill="#f6f6f6"/>
<circle cx="601.2" cy="374.26" r="3.9" fill="#c2c2c2"/>
<circle cx="600.9" cy="374.56" r="2.25" fill="#161616"/>
<circle cx="639.1" cy="375.06" r="4.2" fill="#f6f6f6"/>
<circle cx="639.9" cy="374.26" r="3.9" fill="#c2c2c2"/>
<circle cx="639.6" cy="374.56" r="2.25" fill="#161616"/>
<circle cx="652.1" cy="375.06" r="4.2" fill="#f6f6f6"/>
<circle cx="652.9" cy="374.26" r="3.9" fill="#c2c2c2"/>
<circle cx="652.6" cy="374.56" r="2.25" fill="#161616"/>
<circle cx="665.1" cy="375.06" r="4.2" fill="#f6f6f6"/>
<circle cx="665.9" cy="374.26" r="3.9" fill="#c2c2c2"/>
<circle cx="665.6" cy="374.56" r="2.25" fill="#161616"/>
<circle cx="678.1" cy="375.06" r="4.2" fill="#f6f6f6"/>
<circle cx="678.9" cy="374.26" r="3.9" fill="#c2c2c2"/>
<circle cx="678.6" cy="374.56" r="2.25" fill="#161616"/>
<circle cx="691.1" cy="375.06" r="4.2" fill="#f6f6f6"/>
<circle cx="691.9" cy="374.26" r="3.9" fill="#c2c2c2"/>
<circle cx="691.6" cy="374.56" r="2.25" fill="#161616"/>
<circle cx="548.4" cy="388.04" r="4.2" fill="#f6f6f6"/>
<circle cx="549.2" cy="387.24" r="3.9" fill="#c2c2c2"/>
<circle cx="548.9" cy="387.54" r="2.25" fill="#161616"/>
<circle cx="561.4" cy="388.04" r="4.2" fill="#f6f6f6"/>
<circle cx="562.2" cy="387.24" r="3.9" fill="#c2c2c2"/>
<circle cx="561.9" cy="387.54" r="2.25" fill="#161616"/>
<circle cx="574.4" cy="388.04" r="4.2" fill="#f6f6f6"/>
<circle cx="575.2" cy="387.24" r="3.9" fill="#c2c2c2"/>
<circle cx="574.9" cy="387.54" r="2.25" fill="#161616"/>
<circle cx="587.4" cy="388.04" r="4.2" fill="#f6f6f6"/>
<circle cx="588.2" cy="387.24" r="3.9" fill="#c2c2c2"/>
<circle cx="587.9" cy="387.54" r="2.25" fill="#161616"/>
<circle cx="600.4" cy="388.04" r="4.2" fill="#f6f6f6"/>
<circle cx="601.2" cy="387.24" r="3.9" fill="#c2c2c2"/>
<circle cx="600.9" cy="387.54" r="2.25" fill="#161616"/>
<circle cx="639.1" cy="388.04" r="4.2" fill="#f6f6f6"/>
<circle cx="639.9" cy="387.24" r="3.9" fill="#c2c2c2"/>
<circle cx="639.6" cy="387.54" r="2.25" fill="#161616"/>
<circle cx="652.1" cy="388.04" r="4.2" fill="#f6f6f6"/>
<circle cx="652.9" cy="387.24" r="3.9" fill="#c2c2c2"/>
<circle cx="652.6" cy="387.54" r="2.25" fill="#161616"/>
<circle cx="665.1" cy="388.04" r="4.2" fill="#f6f6f6"/>
<circle cx="665.9" cy="387.24" r="3.9" fill="#c2c2c2"/>
<circle cx="665.6" cy="387.54" r="2.25" fill="#161616"/>
<circle cx="678.1" cy="388.04" r="4.2" fill="#f6f6f6"/>
<circle cx="678.9" cy="387.24" r="3.9" fill="#c2c2c2"/>
<circle cx="678.6" cy="387.54" r="2.25" fill="#161616"/>
<circle cx="691.1" cy="388.04" r="4.2" fill="#f6f6f6"/>
<circle cx="691.9" cy="387.24" r="3.9" fill="#c2c2c2"/>
<circle cx="691.6" cy="387.54" r="2.25" fill="#161616"/>
<circle cx="548.9" cy="400.52" r="4.5" fill="#9ae896"/>
<circle cx="548.9" cy="400.52" r="3.0" fill="#62b862"/>
<circle cx="548.9" cy="400.52" r="2.1" fill="#173d17"/>
<circle cx="561.9" cy="400.52" r="4.5" fill="#9ae896"/>
<circle cx="561.9" cy="400.52" r="3.0" fill="#62b862"/>
<circle cx="561.9" cy="400.52" r="2.1" fill="#173d17"/>
<circle cx="574.9" cy="400.52" r="4.5" fill="#9ae896"/>
<circle cx="574.9" cy="400.52" r="3.0" fill="#62b862"/>
<circle cx="574.9" cy="400.52" r="2.1" fill="#173d17"/>
<circle cx="587.9" cy="400.52" r="4.5" fill="#9ae896"/>
<circle cx="587.9" cy="400.52" r="3.0" fill="#62b862"/>
<circle cx="587.9" cy="400.52" r="2.1" fill="#173d17"/>
<circle cx="600.9" cy="400.52" r="4.5" fill="#9ae896"/>
<circle cx="600.9" cy="400.52" r="3.0" fill="#62b862"/>
<circle cx="600.9" cy="400.52" r="2.1" fill="#173d17"/>
<circle cx="639.1" cy="401.02" r="4.2" fill="#f6f6f6"/>
<circle cx="639.9" cy="400.22" r="3.9" fill="#c2c2c2"/>
<circle cx="639.6" cy="400.52" r="2.25" fill="#161616"/>
<circle cx="652.1" cy="401.02" r="4.2" fill="#f6f6f6"/>
<circle cx="652.9" cy="400.22" r="3.9" fill="#c2c2c2"/>
<circle cx="652.6" cy="400.52" r="2.25" fill="#161616"/>
<circle cx="665.1" cy="401.02" r="4.2" fill="#f6f6f6"/>
<circle cx="665.9" cy="400.22" r="3.9" fill="#c2c2c2"/>
<circle cx="665.6" cy="400.52" r="2.25" fill="#161616"/>
<circle cx="678.1" cy="401.02" r="4.2" fill="#f6f6f6"/>
<circle cx="678.9" cy="400.22" r="3.9" fill="#c2c2c2"/>
<circle cx="678.6" cy="400.52" r="2.25" fill="#161616"/>
<circle cx="691.1" cy="401.02" r="4.2" fill="#f6f6f6"/>
<circle cx="691.9" cy="400.22" r="3.9" fill="#c2c2c2"/>
<circle cx="691.6" cy="400.52" r="2.25" fill="#161616"/>
<circle cx="548.9" cy="413.5" r="4.5" fill="#9ae896"/>
<circle cx="548.9" cy="413.5" r="3.0" fill="#62b862"/>
<circle cx="548.9" cy="413.5" r="2.1" fill="#173d17"/>
<circle cx="561.9" cy="413.5" r="4.5" fill="#9ae896"/>
<circle cx="561.9" cy="413.5" r="3.0" fill="#62b862"/>
<circle cx="561.9" cy="413.5" r="2.1" fill="#173d17"/>
<circle cx="574.9" cy="413.5" r="4.5" fill="#9ae896"/>
<circle cx="574.9" cy="413.5" r="3.0" fill="#62b862"/>
<circle cx="574.9" cy="413.5" r="2.1" fill="#173d17"/>
<circle cx="587.9" cy="413.5" r="4.5" fill="#9ae896"/>
<circle cx="587.9" cy="413.5" r="3.0" fill="#62b862"/>
<circle cx="587.9" cy="413.5" r="2.1" fill="#173d17"/>
<circle cx="600.9" cy="413.5" r="4.5" fill="#9ae896"/>
<circle cx="600.9" cy="413.5" r="3.0" fill="#62b862"/>
<circle cx="600.9" cy="413.5" r="2.1" fill="#173d17"/>
<circle cx="639.1" cy="414" r="4.2" fill="#f6f6f6"/>
<circle cx="639.9" cy="413.2" r="3.9" fill="#c2c2c2"/>
<circle cx="639.6" cy="413.5" r="2.25" fill="#161616"/>
<circle cx="652.1" cy="414" r="4.2" fill="#f6f6f6"/>
<circle cx="652.9" cy="413.2" r="3.9" fill="#c2c2c2"/>
<circle cx="652.6" cy="413.5" r="2.25" fill="#161616"/>
<circle cx="665.1" cy="414" r="4.2" fill="#f6f6f6"/>
<circle cx="665.9" cy="413.2" r="3.9" fill="#c2c2c2"/>
<circle cx="665.6" cy="413.5" r="2.25" fill="#161616"/>
<circle cx="678.1" cy="414" r="4.2" fill="#f6f6f6"/>
<circle cx="678.9" cy="413.2" r="3.9" fill="#c2c2c2"/>
<circle cx="678.6" cy="413.5" r="2.25" fill="#161616"/>
<circle cx="691.1" cy="414" r="4.2" fill="#f6f6f6"/>
<circle cx="691.9" cy="413.2" r="3.9" fill="#c2c2c2"/>
<circle cx="691.6" cy="413.5" r="2.25" fill="#161616"/>
<circle cx="548.4" cy="426.98" r="4.2" fill="#f6f6f6"/>
<circle cx="549.2" cy="426.18" r="3.9" fill="#c2c2c2"/>
<circle cx="548.9" cy="426.48" r="2.25" fill="#161616"/>
<circle cx="561.4" cy="426.98" r="4.2" fill="#f6f6f6"/>
<circle cx="562.2" cy="426.18" r="3.9" fill="#c2c2c2"/>
<circle cx="561.9" cy="426.48" r="2.25" fill="#161616"/>
<circle cx="574.4" cy="426.98" r="4.2" fill="#f6f6f6"/>
<circle cx="575.2" cy="426.18" r="3.9" fill="#c2c2c2"/>
<circle cx="574.9" cy="426.48" r="2.25" fill="#161616"/>
<circle cx="587.4" cy="426.98" r="4.2" fill="#f6f6f6"/>
<circle cx="588.2" cy="426.18" r="3.9" fill="#c2c2c2"/>
<circle cx="587.9" cy="426.48" r="2.25" fill="#161616"/>
<circle cx="600.4" cy="426.98" r="4.2" fill="#f6f6f6"/>
<circle cx="601.2" cy="426.18" r="3.9" fill="#c2c2c2"/>
<circle cx="600.9" cy="426.48" r="2.25" fill="#161616"/>
<circle cx="639.1" cy="426.98" r="4.2" fill="#f6f6f6"/>
<circle cx="639.9" cy="426.18" r="3.9" fill="#c2c2c2"/>
<circle cx="639.6" cy="426.48" r="2.25" fill="#161616"/>
<circle cx="652.1" cy="426.98" r="4.2" fill="#f6f6f6"/>
<circle cx="652.9" cy="426.18" r="3.9" fill="#c2c2c2"/>
<circle cx="652.6" cy="426.48" r="2.25" fill="#161616"/>
<circle cx="665.1" cy="426.98" r="4.2" fill="#f6f6f6"/>
<circle cx="665.9" cy="426.18" r="3.9" fill="#c2c2c2"/>
<circle cx="665.6" cy="426.48" r="2.25" fill="#161616"/>
<circle cx="678.1" cy="426.98" r="4.2" fill="#f6f6f6"/>
<circle cx="678.9" cy="426.18" r="3.9" fill="#c2c2c2"/>
<circle cx="678.6" cy="426.48" r="2.25" fill="#161616"/>
<circle cx="691.1" cy="426.98" r="4.2" fill="#f6f6f6"/>
<circle cx="691.9" cy="426.18" r="3.9" fill="#c2c2c2"/>
<circle cx="691.6" cy="426.48" r="2.25" fill="#161616"/>
<circle cx="548.4" cy="439.96" r="4.2" fill="#f6f6f6"/>
<circle cx="549.2" cy="439.16" r="3.9" fill="#c2c2c2"/>
<circle cx="548.9" cy="439.46" r="2.25" fill="#161616"/>
<circle cx="561.4" cy="439.96" r="4.2" fill="#f6f6f6"/>
<circle cx="562.2" cy="439.16" r="3.9" fill="#c2c2c2"/>
<circle cx="561.9" cy="439.46" r="2.25" fill="#161616"/>
<circle cx="574.4" cy="439.96" r="4.2" fill="#f6f6f6"/>
<circle cx="575.2" cy="439.16" r="3.9" fill="#c2c2c2"/>
<circle cx="574.9" cy="439.46" r="2.25" fill="#161616"/>
<circle cx="587.4" cy="439.96" r="4.2" fill="#f6f6f6"/>
<circle cx="588.2" cy="439.16" r="3.9" fill="#c2c2c2"/>
<circle cx="587.9" cy="439.46" r="2.25" fill="#161616"/>
<circle cx="600.4" cy="439.96" r="4.2" fill="#f6f6f6"/>
<circle cx="601.2" cy="439.16" r="3.9" fill="#c2c2c2"/>
<circle cx="600.9" cy="439.46" r="2.25" fill="#161616"/>
<circle cx="639.6" cy="439.46" r="4.5" fill="#9ae896"/>
<circle cx="639.6" cy="439.46" r="3.0" fill="#62b862"/>
<circle cx="639.6" cy="439.46" r="2.1" fill="#173d17"/>
<circle cx="652.6" cy="439.46" r="4.5" fill="#9ae896"/>
<circle cx="652.6" cy="439.46" r="3.0" fill="#62b862"/>
<circle cx="652.6" cy="439.46" r="2.1" fill="#173d17"/>
<circle cx="665.6" cy="439.46" r="4.5" fill="#9ae896"/>
<circle cx="665.6" cy="439.46" r="3.0" fill="#62b862"/>
<circle cx="665.6" cy="439.46" r="2.1" fill="#173d17"/>
<circle cx="678.6" cy="439.46" r="4.5" fill="#9ae896"/>
<circle cx="678.6" cy="439.46" r="3.0" fill="#62b862"/>
<circle cx="678.6" cy="439.46" r="2.1" fill="#173d17"/>
<circle cx="691.6" cy="439.46" r="4.5" fill="#9ae896"/>
<circle cx="691.6" cy="439.46" r="3.0" fill="#62b862"/>
<circle cx="691.6" cy="439.46" r="2.1" fill="#173d17"/>
<circle cx="548.4" cy="452.94" r="4.2" fill="#f6f6f6"/>
<circle cx="549.2" cy="452.14" r="3.9" fill="#c2c2c2"/>
<circle cx="548.9" cy="452.44" r="2.25" fill="#161616"/>
<circle cx="561.4" cy="452.94" r="4.2" fill="#f6f6f6"/>
<circle cx="562.2" cy="452.14" r="3.9" fill="#c2c2c2"/>
<circle cx="561.9" cy="452.44" r="2.25" fill="#161616"/>
<circle cx="574.4" cy="452.94" r="4.2" fill="#f6f6f6"/>
<circle cx="575.2" cy="452.14" r="3.9" fill="#c2c2c2"/>
<circle cx="574.9" cy="452.44" r="2.25" fill="#161616"/>
<circle cx="587.4" cy="452.94" r="4.2" fill="#f6f6f6"/>
<circle cx="588.2" cy="452.14" r="3.9" fill="#c2c2c2"/>
<circle cx="587.9" cy="452.44" r="2.25" fill="#161616"/>
<circle cx="600.4" cy="452.94" r="4.2" fill="#f6f6f6"/>
<circle cx="601.2" cy="452.14" r="3.9" fill="#c2c2c2"/>
<circle cx="600.9" cy="452.44" r="2.25" fill="#161616"/>
<circle cx="639.1" cy="452.94" r="4.2" fill="#f6f6f6"/>
<circle cx="639.9" cy="452.14" r="3.9" fill="#c2c2c2"/>
<circle cx="639.6" cy="452.44" r="2.25" fill="#161616"/>
<circle cx="652.1" cy="452.94" r="4.2" fill="#f6f6f6"/>
<circle cx="652.9" cy="452.14" r="3.9" fill="#c2c2c2"/>
<circle cx="652.6" cy="452.44" r="2.25" fill="#161616"/>
<circle cx="665.1" cy="452.94" r="4.2" fill="#f6f6f6"/>
<circle cx="665.9" cy="452.14" r="3.9" fill="#c2c2c2"/>
<circle cx="665.6" cy="452.44" r="2.25" fill="#161616"/>
<circle cx="678.1" cy="452.94" r="4.2" fill="#f6f6f6"/>
<circle cx="678.9" cy="452.14" r="3.9" fill="#c2c2c2"/>
<circle cx="678.6" cy="452.44" r="2.25" fill="#161616"/>
<circle cx="691.1" cy="452.94" r="4.2" fill="#f6f6f6"/>
<circle cx="691.9" cy="452.14" r="3.9" fill="#c2c2c2"/>
<circle cx="691.6" cy="452.44" r="2.25" fill="#161616"/>
<circle cx="548.4" cy="465.92" r="4.2" fill="#f6f6f6"/>
<circle cx="549.2" cy="465.12" r="3.9" fill="#c2c2c2"/>
<circle cx="548.9" cy="465.42" r="2.25" fill="#161616"/>
<circle cx="561.4" cy="465.92" r="4.2" fill="#f6f6f6"/>
<circle cx="562.2" cy="465.12" r="3.9" fill="#c2c2c2"/>
<circle cx="561.9" cy="465.42" r="2.25" fill="#161616"/>
<circle cx="574.4" cy="465.92" r="4.2" fill="#f6f6f6"/>
<circle cx="575.2" cy="465.12" r="3.9" fill="#c2c2c2"/>
<circle cx="574.9" cy="465.42" r="2.25" fill="#161616"/>
<circle cx="587.4" cy="465.92" r="4.2" fill="#f6f6f6"/>
<circle cx="588.2" cy="465.12" r="3.9" fill="#c2c2c2"/>
<circle cx="587.9" cy="465.42" r="2.25" fill="#161616"/>
<circle cx="600.4" cy="465.92" r="4.2" fill="#f6f6f6"/>
<circle cx="601.2" cy="465.12" r="3.9" fill="#c2c2c2"/>
<circle cx="600.9" cy="465.42" r="2.25" fill="#161616"/>
<circle cx="639.1" cy="465.92" r="4.2" fill="#f6f6f6"/>
<circle cx="639.9" cy="465.12" r="3.9" fill="#c2c2c2"/>
<circle cx="639.6" cy="465.42" r="2.25" fill="#161616"/>
<circle cx="652.1" cy="465.92" r="4.2" fill="#f6f6f6"/>
<circle cx="652.9" cy="465.12" r="3.9" fill="#c2c2c2"/>
<circle cx="652.6" cy="465.42" r="2.25" fill="#161616"/>
<circle cx="665.1" cy="465.92" r="4.2" fill="#f6f6f6"/>
<circle cx="665.9" cy="465.12" r="3.9" fill="#c2c2c2"/>
<circle cx="665.6" cy="465.42" r="2.25" fill="#161616"/>
<circle cx="678.1" cy="465.92" r="4.2" fill="#f6f6f6"/>
<circle cx="678.9" cy="465.12" r="3.9" fill="#c2c2c2"/>
<circle cx="678.6" cy="465.42" r="2.25" fill="#161616"/>
<circle cx="691.1" cy="465.92" r="4.2" fill="#f6f6f6"/>
<circle cx="691.9" cy="465.12" r="3.9" fill="#c2c2c2"/>
<circle cx="691.6" cy="465.42" r="2.25" fill="#161616"/>
<circle cx="497.5" cy="93.3" r="4.5" fill="#9ae896"/>
<circle cx="497.5" cy="93.3" r="3.0" fill="#62b862"/>
<circle cx="497.5" cy="93.3" r="2.1" fill="#173d17"/>
<circle cx="510.5" cy="93.3" r="4.5" fill="#9ae896"/>
<circle cx="510.5" cy="93.3" r="3.0" fill="#62b862"/>
<circle cx="510.5" cy="93.3" r="2.1" fill="#173d17"/>
<circle cx="730.4" cy="93.3" r="4.5" fill="#9ae896"/>
<circle cx="730.4" cy="93.3" r="3.0" fill="#62b862"/>
<circle cx="730.4" cy="93.3" r="2.1" fill="#173d17"/>
<circle cx="743.2" cy="93.3" r="4.5" fill="#9ae896"/>
<circle cx="743.2" cy="93.3" r="3.0" fill="#62b862"/>
<circle cx="743.2" cy="93.3" r="2.1" fill="#173d17"/>
<circle cx="497.5" cy="106.3" r="4.5" fill="#9ae896"/>
<circle cx="497.5" cy="106.3" r="3.0" fill="#62b862"/>
<circle cx="497.5" cy="106.3" r="2.1" fill="#173d17"/>
<circle cx="510.5" cy="106.3" r="4.5" fill="#9ae896"/>
<circle cx="510.5" cy="106.3" r="3.0" fill="#62b862"/>
<circle cx="510.5" cy="106.3" r="2.1" fill="#173d17"/>
<circle cx="730.4" cy="106.3" r="4.5" fill="#9ae896"/>
<circle cx="730.4" cy="106.3" r="3.0" fill="#62b862"/>
<circle cx="730.4" cy="106.3" r="2.1" fill="#173d17"/>
<circle cx="743.2" cy="106.3" r="4.5" fill="#9ae896"/>
<circle cx="743.2" cy="106.3" r="3.0" fill="#62b862"/>
<circle cx="743.2" cy="106.3" r="2.1" fill="#173d17"/>
<circle cx="497.5" cy="119.3" r="4.5" fill="#9ae896"/>
<circle cx="497.5" cy="119.3" r="3.0" fill="#62b862"/>
<circle cx="497.5" cy="119.3" r="2.1" fill="#173d17"/>
<circle cx="510.5" cy="119.3" r="4.5" fill="#9ae896"/>
<circle cx="510.5" cy="119.3" r="3.0" fill="#62b862"/>
<circle cx="510.5" cy="119.3" r="2.1" fill="#173d17"/>
<circle cx="730.4" cy="119.3" r="4.5" fill="#9ae896"/>
<circle cx="730.4" cy="119.3" r="3.0" fill="#62b862"/>
<circle cx="730.4" cy="119.3" r="2.1" fill="#173d17"/>
<circle cx="743.2" cy="119.3" r="4.5" fill="#9ae896"/>
<circle cx="743.2" cy="119.3" r="3.0" fill="#62b862"/>
<circle cx="743.2" cy="119.3" r="2.1" fill="#173d17"/>
<circle cx="497.5" cy="132.3" r="4.5" fill="#9ae896"/>
<circle cx="497.5" cy="132.3" r="3.0" fill="#62b862"/>
<circle cx="497.5" cy="132.3" r="2.1" fill="#173d17"/>
<circle cx="510.5" cy="132.3" r="4.5" fill="#9ae896"/>
<circle cx="510.5" cy="132.3" r="3.0" fill="#62b862"/>
<circle cx="510.5" cy="132.3" r="2.1" fill="#173d17"/>
<circle cx="730.4" cy="132.3" r="4.5" fill="#9ae896"/>
<circle cx="730.4" cy="132.3" r="3.0" fill="#62b862"/>
<circle cx="730.4" cy="132.3" r="2.1" fill="#173d17"/>
<circle cx="743.2" cy="132.3" r="4.5" fill="#9ae896"/>
<circle cx="743.2" cy="132.3" r="3.0" fill="#62b862"/>
<circle cx="743.2" cy="132.3" r="2.1" fill="#173d17"/>
<circle cx="497.5" cy="145.3" r="4.5" fill="#9ae896"/>
<circle cx="497.5" cy="145.3" r="3.0" fill="#62b862"/>
<circle cx="497.5" cy="145.3" r="2.1" fill="#173d17"/>
<circle cx="510.5" cy="145.3" r="4.5" fill="#9ae896"/>
<circle cx="510.5" cy="145.3" r="3.0" fill="#62b862"/>
<circle cx="510.5" cy="145.3" r="2.1" fill="#173d17"/>
<circle cx="730.4" cy="145.3" r="4.5" fill="#9ae896"/>
<circle cx="730.4" cy="145.3" r="3.0" fill="#62b862"/>
<circle cx="730.4" cy="145.3" r="2.1" fill="#173d17"/>
<circle cx="743.2" cy="145.3" r="4.5" fill="#9ae896"/>
<circle cx="743.2" cy="145.3" r="3.0" fill="#62b862"/>
<circle cx="743.2" cy="145.3" r="2.1" fill="#173d17"/>
<circle cx="497.5" cy="171.3" r="4.5" fill="#9ae896"/>
<circle cx="497.5" cy="171.3" r="3.0" fill="#62b862"/>
<circle cx="497.5" cy="171.3" r="2.1" fill="#173d17"/>
<circle cx="510.5" cy="171.3" r="4.5" fill="#9ae896"/>
<circle cx="510.5" cy="171.3" r="3.0" fill="#62b862"/>
<circle cx="510.5" cy="171.3" r="2.1" fill="#173d17"/>
<circle cx="730.4" cy="171.3" r="4.5" fill="#9ae896"/>
<circle cx="730.4" cy="171.3" r="3.0" fill="#62b862"/>
<circle cx="730.4" cy="171.3" r="2.1" fill="#173d17"/>
<circle cx="743.2" cy="171.3" r="4.5" fill="#9ae896"/>
<circle cx="743.2" cy="171.3" r="3.0" fill="#62b862"/>
<circle cx="743.2" cy="171.3" r="2.1" fill="#173d17"/>
<circle cx="497.5" cy="184.3" r="4.5" fill="#9ae896"/>
<circle cx="497.5" cy="184.3" r="3.0" fill="#62b862"/>
<circle cx="497.5" cy="184.3" r="2.1" fill="#173d17"/>
<circle cx="510.5" cy="184.3" r="4.5" fill="#9ae896"/>
<circle cx="510.5" cy="184.3" r="3.0" fill="#62b862"/>
<circle cx="510.5" cy="184.3" r="2.1" fill="#173d17"/>
<circle cx="730.4" cy="184.3" r="4.5" fill="#9ae896"/>
<circle cx="730.4" cy="184.3" r="3.0" fill="#62b862"/>
<circle cx="730.4" cy="184.3" r="2.1" fill="#173d17"/>
<circle cx="743.2" cy="184.3" r="4.5" fill="#9ae896"/>
<circle cx="743.2" cy="184.3" r="3.0" fill="#62b862"/>
<circle cx="743.2" cy="184.3" r="2.1" fill="#173d17"/>
<circle cx="497.5" cy="197.3" r="4.5" fill="#9ae896"/>
<circle cx="497.5" cy="197.3" r="3.0" fill="#62b862"/>
<circle cx="497.5" cy="197.3" r="2.1" fill="#173d17"/>
<circle cx="510.5" cy="197.3" r="4.5" fill="#9ae896"/>
<circle cx="510.5" cy="197.3" r="3.0" fill="#62b862"/>
<circle cx="510.5" cy="197.3" r="2.1" fill="#173d17"/>
<circle cx="730.4" cy="197.3" r="4.5" fill="#9ae896"/>
<circle cx="730.4" cy="197.3" r="3.0" fill="#62b862"/>
<circle cx="730.4" cy="197.3" r="2.1" fill="#173d17"/>
<circle cx="743.2" cy="197.3" r="4.5" fill="#9ae896"/>
<circle cx="743.2" cy="197.3" r="3.0" fill="#62b862"/>
<circle cx="743.2" cy="197.3" r="2.1" fill="#173d17"/>
<circle cx="497.5" cy="210.3" r="4.5" fill="#9ae896"/>
<circle cx="497.5" cy="210.3" r="3.0" fill="#62b862"/>
<circle cx="497.5" cy="210.3" r="2.1" fill="#173d17"/>
<circle cx="510.5" cy="210.3" r="4.5" fill="#9ae896"/>
<circle cx="510.5" cy="210.3" r="3.0" fill="#62b862"/>
<circle cx="510.5" cy="210.3" r="2.1" fill="#173d17"/>
<circle cx="730.4" cy="210.3" r="4.5" fill="#9ae896"/>
<circle cx="730.4" cy="210.3" r="3.0" fill="#62b862"/>
<circle cx="730.4" cy="210.3" r="2.1" fill="#173d17"/>
<circle cx="743.2" cy="210.3" r="4.5" fill="#9ae896"/>
<circle cx="743.2" cy="210.3" r="3.0" fill="#62b862"/>
<circle cx="743.2" cy="210.3" r="2.1" fill="#173d17"/>
<circle cx="497.5" cy="223.3" r="4.5" fill="#9ae896"/>
<circle cx="497.5" cy="223.3" r="3.0" fill="#62b862"/>
<circle cx="497.5" cy="223.3" r="2.1" fill="#173d17"/>
<circle cx="510.5" cy="223.3" r="4.5" fill="#9ae896"/>
<circle cx="510.5" cy="223.3" r="3.0" fill="#62b862"/>
<circle cx="510.5" cy="223.3" r="2.1" fill="#173d17"/>
<circle cx="730.4" cy="223.3" r="4.5" fill="#9ae896"/>
<circle cx="730.4" cy="223.3" r="3.0" fill="#62b862"/>
<circle cx="730.4" cy="223.3" r="2.1" fill="#173d17"/>
<circle cx="743.2" cy="223.3" r="4.5" fill="#9ae896"/>
<circle cx="743.2" cy="223.3" r="3.0" fill="#62b862"/>
<circle cx="743.2" cy="223.3" r="2.1" fill="#173d17"/>
<circle cx="497.5" cy="249.3" r="4.5" fill="#9ae896"/>
<circle cx="497.5" cy="249.3" r="3.0" fill="#62b862"/>
<circle cx="497.5" cy="249.3" r="2.1" fill="#173d17"/>
<circle cx="510.5" cy="249.3" r="4.5" fill="#9ae896"/>
<circle cx="510.5" cy="249.3" r="3.0" fill="#62b862"/>
<circle cx="510.5" cy="249.3" r="2.1" fill="#173d17"/>
<circle cx="730.4" cy="249.3" r="4.5" fill="#9ae896"/>
<circle cx="730.4" cy="249.3" r="3.0" fill="#62b862"/>
<circle cx="730.4" cy="249.3" r="2.1" fill="#173d17"/>
<circle cx="743.2" cy="249.3" r="4.5" fill="#9ae896"/>
<circle cx="743.2" cy="249.3" r="3.0" fill="#62b862"/>
<circle cx="743.2" cy="249.3" r="2.1" fill="#173d17"/>
<circle cx="497.5" cy="262.3" r="4.5" fill="#9ae896"/>
<circle cx="497.5" cy="262.3" r="3.0" fill="#62b862"/>
<circle cx="497.5" cy="262.3" r="2.1" fill="#173d17"/>
<circle cx="510.5" cy="262.3" r="4.5" fill="#9ae896"/>
<circle cx="510.5" cy="262.3" r="3.0" fill="#62b862"/>
<circle cx="510.5" cy="262.3" r="2.1" fill="#173d17"/>
<circle cx="730.4" cy="262.3" r="4.5" fill="#9ae896"/>
<circle cx="730.4" cy="262.3" r="3.0" fill="#62b862"/>
<circle cx="730.4" cy="262.3" r="2.1" fill="#173d17"/>
<circle cx="743.2" cy="262.3" r="4.5" fill="#9ae896"/>
<circle cx="743.2" cy="262.3" r="3.0" fill="#62b862"/>
<circle cx="743.2" cy="262.3" r="2.1" fill="#173d17"/>
<circle cx="497.5" cy="275.3" r="4.5" fill="#9ae896"/>
<circle cx="497.5" cy="275.3" r="3.0" fill="#62b862"/>
<circle cx="497.5" cy="275.3" r="2.1" fill="#173d17"/>
<circle cx="510.5" cy="275.3" r="4.5" fill="#9ae896"/>
<circle cx="510.5" cy="275.3" r="3.0" fill="#62b862"/>
<circle cx="510.5" cy="275.3" r="2.1" fill="#173d17"/>
<circle cx="730.4" cy="275.3" r="4.5" fill="#9ae896"/>
<circle cx="730.4" cy="275.3" r="3.0" fill="#62b862"/>
<circle cx="730.4" cy="275.3" r="2.1" fill="#173d17"/>
<circle cx="743.2" cy="275.3" r="4.5" fill="#9ae896"/>
<circle cx="743.2" cy="275.3" r="3.0" fill="#62b862"/>
<circle cx="743.2" cy="275.3" r="2.1" fill="#173d17"/>
<circle cx="497.5" cy="288.3" r="4.5" fill="#9ae896"/>
<circle cx="497.5" cy="288.3" r="3.0" fill="#62b862"/>
<circle cx="497.5" cy="288.3" r="2.1" fill="#173d17"/>
<circle cx="510.5" cy="288.3" r="4.5" fill="#9ae896"/>
<circle cx="510.5" cy="288.3" r="3.0" fill="#62b862"/>
<circle cx="510.5" cy="288.3" r="2.1" fill="#173d17"/>
<circle cx="730.4" cy="288.3" r="4.5" fill="#9ae896"/>
<circle cx="730.4" cy="288.3" r="3.0" fill="#62b862"/>
<circle cx="730.4" cy="288.3" r="2.1" fill="#173d17"/>
<circle cx="743.2" cy="288.3" r="4.5" fill="#9ae896"/>
<circle cx="743.2" cy="288.3" r="3.0" fill="#62b862"/>
<circle cx="743.2" cy="288.3" r="2.1" fill="#173d17"/>
<circle cx="497.5" cy="301.3" r="4.5" fill="#9ae896"/>
<circle cx="497.5" cy="301.3" r="3.0" fill="#62b862"/>
<circle cx="497.5" cy="301.3" r="2.1" fill="#173d17"/>
<circle cx="510.5" cy="301.3" r="4.5" fill="#9ae896"/>
<circle cx="510.5" cy="301.3" r="3.0" fill="#62b862"/>
<circle cx="510.5" cy="301.3" r="2.1" fill="#173d17"/>
<circle cx="730.4" cy="301.3" r="4.5" fill="#9ae896"/>
<circle cx="730.4" cy="301.3" r="3.0" fill="#62b862"/>
<circle cx="730.4" cy="301.3" r="2.1" fill="#173d17"/>
<circle cx="743.2" cy="301.3" r="4.5" fill="#9ae896"/>
<circle cx="743.2" cy="301.3" r="3.0" fill="#62b862"/>
<circle cx="743.2" cy="301.3" r="2.1" fill="#173d17"/>
<circle cx="497.5" cy="327.3" r="4.5" fill="#9ae896"/>
<circle cx="497.5" cy="327.3" r="3.0" fill="#62b862"/>
<circle cx="497.5" cy="327.3" r="2.1" fill="#173d17"/>
<circle cx="510.5" cy="327.3" r="4.5" fill="#9ae896"/>
<circle cx="510.5" cy="327.3" r="3.0" fill="#62b862"/>
<circle cx="510.5" cy="327.3" r="2.1" fill="#173d17"/>
<circle cx="730.4" cy="327.3" r="4.5" fill="#9ae896"/>
<circle cx="730.4" cy="327.3" r="3.0" fill="#62b862"/>
<circle cx="730.4" cy="327.3" r="2.1" fill="#173d17"/>
<circle cx="743.2" cy="327.3" r="4.5" fill="#9ae896"/>
<circle cx="743.2" cy="327.3" r="3.0" fill="#62b862"/>
<circle cx="743.2" cy="327.3" r="2.1" fill="#173d17"/>
<circle cx="497.5" cy="340.3" r="4.5" fill="#9ae896"/>
<circle cx="497.5" cy="340.3" r="3.0" fill="#62b862"/>
<circle cx="497.5" cy="340.3" r="2.1" fill="#173d17"/>
<circle cx="510.5" cy="340.3" r="4.5" fill="#9ae896"/>
<circle cx="510.5" cy="340.3" r="3.0" fill="#62b862"/>
<circle cx="510.5" cy="340.3" r="2.1" fill="#173d17"/>
<circle cx="730.4" cy="340.3" r="4.5" fill="#9ae896"/>
<circle cx="730.4" cy="340.3" r="3.0" fill="#62b862"/>
<circle cx="730.4" cy="340.3" r="2.1" fill="#173d17"/>
<circle cx="743.2" cy="340.3" r="4.5" fill="#9ae896"/>
<circle cx="743.2" cy="340.3" r="3.0" fill="#62b862"/>
<circle cx="743.2" cy="340.3" r="2.1" fill="#173d17"/>
<circle cx="497.5" cy="353.3" r="4.5" fill="#9ae896"/>
<circle cx="497.5" cy="353.3" r="3.0" fill="#62b862"/>
<circle cx="497.5" cy="353.3" r="2.1" fill="#173d17"/>
<circle cx="510.5" cy="353.3" r="4.5" fill="#9ae896"/>
<circle cx="510.5" cy="353.3" r="3.0" fill="#62b862"/>
<circle cx="510.5" cy="353.3" r="2.1" fill="#173d17"/>
<circle cx="730.4" cy="353.3" r="4.5" fill="#9ae896"/>
<circle cx="730.4" cy="353.3" r="3.0" fill="#62b862"/>
<circle cx="730.4" cy="353.3" r="2.1" fill="#173d17"/>
<circle cx="743.2" cy="353.3" r="4.5" fill="#9ae896"/>
<circle cx="743.2" cy="353.3" r="3.0" fill="#62b862"/>
<circle cx="743.2" cy="353.3" r="2.1" fill="#173d17"/>
<circle cx="497.5" cy="366.3" r="4.5" fill="#9ae896"/>
<circle cx="497.5" cy="366.3" r="3.0" fill="#62b862"/>
<circle cx="497.5" cy="366.3" r="2.1" fill="#173d17"/>
<circle cx="510.5" cy="366.3" r="4.5" fill="#9ae896"/>
<circle cx="510.5" cy="366.3" r="3.0" fill="#62b862"/>
<circle cx="510.5" cy="366.3" r="2.1" fill="#173d17"/>
<circle cx="730.4" cy="366.3" r="4.5" fill="#9ae896"/>
<circle cx="730.4" cy="366.3" r="3.0" fill="#62b862"/>
<circle cx="730.4" cy="366.3" r="2.1" fill="#173d17"/>
<circle cx="743.2" cy="366.3" r="4.5" fill="#9ae896"/>
<circle cx="743.2" cy="366.3" r="3.0" fill="#62b862"/>
<circle cx="743.2" cy="366.3" r="2.1" fill="#173d17"/>
<circle cx="497.5" cy="379.3" r="4.5" fill="#9ae896"/>
<circle cx="497.5" cy="379.3" r="3.0" fill="#62b862"/>
<circle cx="497.5" cy="379.3" r="2.1" fill="#173d17"/>
<circle cx="510.5" cy="379.3" r="4.5" fill="#9ae896"/>
<circle cx="510.5" cy="379.3" r="3.0" fill="#62b862"/>
<circle cx="510.5" cy="379.3" r="2.1" fill="#173d17"/>
<circle cx="730.4" cy="379.3" r="4.5" fill="#9ae896"/>
<circle cx="730.4" cy="379.3" r="3.0" fill="#62b862"/>
<circle cx="730.4" cy="379.3" r="2.1" fill="#173d17"/>
<circle cx="743.2" cy="379.3" r="4.5" fill="#9ae896"/>
<circle cx="743.2" cy="379.3" r="3.0" fill="#62b862"/>
<circle cx="743.2" cy="379.3" r="2.1" fill="#173d17"/>
<circle cx="497.5" cy="405.3" r="4.5" fill="#9ae896"/>
<circle cx="497.5" cy="405.3" r="3.0" fill="#62b862"/>
<circle cx="497.5" cy="405.3" r="2.1" fill="#173d17"/>
<circle cx="510.5" cy="405.3" r="4.5" fill="#9ae896"/>
<circle cx="510.5" cy="405.3" r="3.0" fill="#62b862"/>
<circle cx="510.5" cy="405.3" r="2.1" fill="#173d17"/>
<circle cx="730.4" cy="405.3" r="4.5" fill="#9ae896"/>
<circle cx="730.4" cy="405.3" r="3.0" fill="#62b862"/>
<circle cx="730.4" cy="405.3" r="2.1" fill="#173d17"/>
<circle cx="743.2" cy="405.3" r="4.5" fill="#9ae896"/>
<circle cx="743.2" cy="405.3" r="3.0" fill="#62b862"/>
<circle cx="743.2" cy="405.3" r="2.1" fill="#173d17"/>
<circle cx="497.5" cy="418.3" r="4.5" fill="#9ae896"/>
<circle cx="497.5" cy="418.3" r="3.0" fill="#62b862"/>
<circle cx="497.5" cy="418.3" r="2.1" fill="#173d17"/>
<circle cx="510.5" cy="418.3" r="4.5" fill="#9ae896"/>
<circle cx="510.5" cy="418.3" r="3.0" fill="#62b862"/>
<circle cx="510.5" cy="418.3" r="2.1" fill="#173d17"/>
<circle cx="730.4" cy="418.3" r="4.5" fill="#9ae896"/>
<circle cx="730.4" cy="418.3" r="3.0" fill="#62b862"/>
<circle cx="730.4" cy="418.3" r="2.1" fill="#173d17"/>
<circle cx="743.2" cy="418.3" r="4.5" fill="#9ae896"/>
<circle cx="743.2" cy="418.3" r="3.0" fill="#62b862"/>
<circle cx="743.2" cy="418.3" r="2.1" fill="#173d17"/>
<circle cx="497.5" cy="431.3" r="4.5" fill="#9ae896"/>
<circle cx="497.5" cy="431.3" r="3.0" fill="#62b862"/>
<circle cx="497.5" cy="431.3" r="2.1" fill="#173d17"/>
<circle cx="510.5" cy="431.3" r="4.5" fill="#9ae896"/>
<circle cx="510.5" cy="431.3" r="3.0" fill="#62b862"/>
<circle cx="510.5" cy="431.3" r="2.1" fill="#173d17"/>
<circle cx="730.4" cy="431.3" r="4.5" fill="#9ae896"/>
<circle cx="730.4" cy="431.3" r="3.0" fill="#62b862"/>
<circle cx="730.4" cy="431.3" r="2.1" fill="#173d17"/>
<circle cx="743.2" cy="431.3" r="4.5" fill="#9ae896"/>
<circle cx="743.2" cy="431.3" r="3.0" fill="#62b862"/>
<circle cx="743.2" cy="431.3" r="2.1" fill="#173d17"/>
<circle cx="497.5" cy="444.3" r="4.5" fill="#9ae896"/>
<circle cx="497.5" cy="444.3" r="3.0" fill="#62b862"/>
<circle cx="497.5" cy="444.3" r="2.1" fill="#173d17"/>
<circle cx="510.5" cy="444.3" r="4.5" fill="#9ae896"/>
<circle cx="510.5" cy="444.3" r="3.0" fill="#62b862"/>
<circle cx="510.5" cy="444.3" r="2.1" fill="#173d17"/>
<circle cx="730.4" cy="444.3" r="4.5" fill="#9ae896"/>
<circle cx="730.4" cy="444.3" r="3.0" fill="#62b862"/>
<circle cx="730.4" cy="444.3" r="2.1" fill="#173d17"/>
<circle cx="743.2" cy="444.3" r="4.5" fill="#9ae896"/>
<circle cx="743.2" cy="444.3" r="3.0" fill="#62b862"/>
<circle cx="743.2" cy="444.3" r="2.1" fill="#173d17"/>
<circle cx="497.5" cy="457.3" r="4.5" fill="#9ae896"/>
<circle cx="497.5" cy="457.3" r="3.0" fill="#62b862"/>
<circle cx="497.5" cy="457.3" r="2.1" fill="#173d17"/>
<circle cx="510.5" cy="457.3" r="4.5" fill="#9ae896"/>
<circle cx="510.5" cy="457.3" r="3.0" fill="#62b862"/>
<circle cx="510.5" cy="457.3" r="2.1" fill="#173d17"/>
<circle cx="730.4" cy="457.3" r="4.5" fill="#9ae896"/>
<circle cx="730.4" cy="457.3" r="3.0" fill="#62b862"/>
<circle cx="730.4" cy="457.3" r="2.1" fill="#173d17"/>
<circle cx="743.2" cy="457.3" r="4.5" fill="#9ae896"/>
<circle cx="743.2" cy="457.3" r="3.0" fill="#62b862"/>
<circle cx="743.2" cy="457.3" r="2.1" fill="#173d17"/>
<rect x="605.2" y="138" width="31.8" height="32" fill="#a4a4a4" stroke="#777" stroke-width="0.8"/>
<circle cx="620.8" cy="153.8" r="9.6" fill="#b4b4b4"/>
<circle cx="620.8" cy="153.8" r="8.4" fill="#7a5a48" stroke="#1e1e1e" stroke-width="1.5"/>
<circle cx="600.9" cy="140.9" r="2.4" fill="#8ab88a" opacity="0.9"/>
<circle cx="639.6" cy="140.9" r="2.4" fill="#8ab88a" opacity="0.9"/>
<circle cx="600.9" cy="166.9" r="2.4" fill="#8ab88a" opacity="0.9"/>
<circle cx="639.6" cy="166.9" r="2.4" fill="#8ab88a" opacity="0.9"/>
<circle cx="609.8" cy="142.5" r="2.6" fill="#151515"/>
<circle cx="632.6" cy="142.5" r="2.6" fill="#151515"/>
<circle cx="609.8" cy="165" r="2.6" fill="#151515"/>
<circle cx="632.6" cy="165" r="2.6" fill="#151515"/>
<rect x="573.2" y="166.88" width="3.4" height="51.92" fill="#8c8c8c"/>
<circle cx="574.9" cy="166.88" r="2.6" fill="#7fbf7f" opacity="0.7"/>
<path d="M569 176 h11.8 v5 l-0.8 3 v16.6 l0.8 3 v5 h-11.8 v-5 l0.8 -3 v-16.6 l-0.8 -3 z" fill="#d9b27a" stroke="#c29456" stroke-width="0.6"/>
<rect x="569.4" y="180.7" width="11" height="3.1" fill="#8a1a10"/>
<rect x="569.4" y="187.2" width="11" height="3.3" fill="#111"/>
<rect x="569.4" y="194" width="11" height="3.1" fill="#e8200a"/>
<rect x="569.4" y="204.5" width="11" height="1.2" fill="#3a3020"/>
<rect x="508.7" y="346.9" width="53.2" height="3.4" fill="#8c8c8c"/>
<path d="M519.3 342.7 v11.8 h5 l3 -0.8 h16.5 l3 0.8 h5 v-11.8 h-5 l-3 0.8 h-16.5 l-3 -0.8 z" fill="#d9b27a" stroke="#c29456" stroke-width="0.6"/>
<rect x="524" y="343.1" width="3.5" height="11" fill="#c81010"/>
<rect x="530.4" y="343.1" width="3.5" height="11" fill="#c81010"/>
<rect x="537.5" y="343.1" width="3.5" height="11" fill="#8a1a10"/>
<rect x="548.3" y="343.1" width="1" height="11" fill="#403020"/>
<rect x="508.7" y="398.82" width="53.2" height="3.4" fill="#8c8c8c"/>
<path d="M519.3 394.62 v11.8 h5 l3 -0.8 h16.5 l3 0.8 h5 v-11.8 h-5 l-3 0.8 h-16.5 l-3 -0.8 z" fill="#d9b27a" stroke="#c29456" stroke-width="0.6"/>
<rect x="524" y="395.02" width="3.5" height="11" fill="#c81010"/>
<rect x="530.4" y="395.02" width="3.5" height="11" fill="#c81010"/>
<rect x="537.5" y="395.02" width="3.5" height="11" fill="#8a1a10"/>
<rect x="548.3" y="395.02" width="1" height="11" fill="#403020"/>
<circle cx="561.9" cy="348.6" r="3.6" fill="#2fd22f"/>
<circle cx="561.9" cy="400.52" r="3.6" fill="#2fd22f"/>
<circle cx="561.9" cy="348.6" r="1.8" fill="#5aa05a" opacity="0.6"/>
<circle cx="561.9" cy="400.52" r="1.8" fill="#5aa05a" opacity="0.6"/>
<circle cx="574.9" cy="218.8" r="2.6" fill="#7fbf7f" opacity="0.7"/>
<rect x="506.4" y="396.2" width="8.2" height="12.6" rx="4.1" fill="#3f7fc0" stroke="#36d236" stroke-width="0.9"/>
<rect x="600.9" y="295.08" width="22" height="3.2" fill="#8e8e8e"/>
<rect x="600.9" y="295.08" width="8" height="3.2" fill="#6fae6f" opacity="0.8"/>
<rect x="620.5" y="293.18" width="5" height="7" rx="1" fill="#7e7e7e"/>
<rect x="600.9" y="308.06" width="22" height="3.2" fill="#8e8e8e"/>
<rect x="600.9" y="308.06" width="8" height="3.2" fill="#6fae6f" opacity="0.8"/>
<rect x="620.5" y="306.16" width="5" height="7" rx="1" fill="#7e7e7e"/>
<rect x="600.9" y="321.04" width="22" height="3.2" fill="#8e8e8e"/>
<rect x="600.9" y="321.04" width="8" height="3.2" fill="#6fae6f" opacity="0.8"/>
<rect x="620.5" y="319.14" width="5" height="7" rx="1" fill="#7e7e7e"/>
<path d="M667 285.6 H685.3 L689.7 289.4 V333 H667 Z" fill="#8e8e8e"/>
<path d="M689.7 289.4 H694 L695 292 L694 295 L695.5 298 L694.5 301 L695.5 304 L694.5 307 L695.5 310 L694.5 313 L695.5 316 L694.5 319 L695.5 322 L694.5 325 L695 328 L694 331 L691 333 H689.7 Z" fill="#a6a6a6"/>
<ellipse cx="679.1" cy="309.2" rx="6" ry="8.4" fill="#dedede"/>
<path d="M673.1 309.2 A6 8.4 0 0 0 679.1 317.6 L679.1 309.2 Z" fill="#bcbcbc"/>
<circle cx="679.1" cy="309.2" r="1.7" fill="#1a1a1a"/>
<rect x="625" y="285.6" width="42" height="47.4" fill="#1f1f1f" stroke="#f2f2f2" stroke-width="0.7"/>
<rect x="654" y="285.6" width="5" height="47.4" fill="#050505"/>
<rect x="659" y="285.6" width="8" height="47.4" fill="#3a3a3a"/>
<path d="M634.5 333 a3.5 3.5 0 0 1 7 0 z" fill="#050505"/>
<path d="M631 286 a5 5 0 0 0 10 0" fill="none" stroke="#3a3a3a" stroke-width="0.8"/>
<text transform="translate(645.5 309) rotate(90)" text-anchor="middle" font-family="Liberation Sans, sans-serif" font-weight="bold" font-size="8.3" fill="#c4c4c4" letter-spacing="1.2">FET P</text>
<path d="M574.9 348.6 H631" fill="none" stroke="#8e8e8e" stroke-width="3.2"/>
<path d="M574.9 361.58 H619.5 L626.8 353.68 H631" fill="none" stroke="#8e8e8e" stroke-width="3.2" stroke-linejoin="round"/>
<circle cx="574.9" cy="348.6" r="2.6" fill="#7fbf7f" opacity="0.6"/>
<circle cx="574.9" cy="361.58" r="2.6" fill="#7fbf7f" opacity="0.6"/>
<circle cx="587.9" cy="348.6" r="2.6" fill="#7fbf7f" opacity="0.6"/>
<circle cx="587.9" cy="361.58" r="2.6" fill="#7fbf7f" opacity="0.6"/>
<circle cx="600.9" cy="348.6" r="2.6" fill="#7fbf7f" opacity="0.6"/>
<circle cx="600.9" cy="361.58" r="2.6" fill="#7fbf7f" opacity="0.6"/>
<path d="M630 345.2 Q630 340.2 635 340.2 H658 A13.6 12.7 0 0 1 658 365.6 H650 Q646 368 640 368 H635 Q630 368 630 363 Z" fill="#e83838" stroke="#b81c1c" stroke-width="1.1"/>
<path d="M633.5 360.2 Q633.5 343.7 637 343.7 H657 A10.5 9.5 0 0 1 667 349.2" fill="none" stroke="#ff9c9c" stroke-width="1.1" opacity="0.7"/>
<rect x="647.9" y="346.4" width="7.9" height="10.9" fill="#b81c1c" opacity="0.75"/>
<path d="M647.9 346.4 L655.8 357.3" stroke="#ff9c9c" stroke-width="0.9" opacity="0.8"/>
<path d="M662 359.2 l3 -4" stroke="#ff9c9c" stroke-width="1.6" opacity="0.8"/>
<path d="M574.9 400.52 H631" fill="none" stroke="#8e8e8e" stroke-width="3.2"/>
<path d="M574.9 413.5 H619.5 L626.8 405.6 H631" fill="none" stroke="#8e8e8e" stroke-width="3.2" stroke-linejoin="round"/>
<circle cx="574.9" cy="400.52" r="2.6" fill="#7fbf7f" opacity="0.6"/>
<circle cx="574.9" cy="413.5" r="2.6" fill="#7fbf7f" opacity="0.6"/>
<circle cx="587.9" cy="400.52" r="2.6" fill="#7fbf7f" opacity="0.6"/>
<circle cx="587.9" cy="413.5" r="2.6" fill="#7fbf7f" opacity="0.6"/>
<circle cx="600.9" cy="400.52" r="2.6" fill="#7fbf7f" opacity="0.6"/>
<circle cx="600.9" cy="413.5" r="2.6" fill="#7fbf7f" opacity="0.6"/>
<path d="M630 397.12 Q630 392.12 635 392.12 H658 A13.6 12.7 0 0 1 658 417.52 H650 Q646 419.92 640 419.92 H635 Q630 419.92 630 414.92 Z" fill="#3fd184" stroke="#22a860" stroke-width="1.1"/>
<path d="M633.5 412.12 Q633.5 395.62 637 395.62 H657 A10.5 9.5 0 0 1 667 401.12" fill="none" stroke="#9ef0c0" stroke-width="1.1" opacity="0.7"/>
<rect x="647.9" y="398.32" width="7.9" height="10.9" fill="#22a860" opacity="0.75"/>
<path d="M647.9 398.32 L655.8 409.22" stroke="#9ef0c0" stroke-width="0.9" opacity="0.8"/>
<path d="M662 411.12 l3 -4" stroke="#9ef0c0" stroke-width="1.6" opacity="0.8"/>
<path d="M664 433.9 H730 L731 439" fill="none" stroke="#8e8e8e" stroke-width="2.8" stroke-linejoin="round"/>
<rect x="664" y="432.4" width="10" height="3" fill="#6fae6f" opacity="0.8"/>
<rect x="691" y="427.7" width="28.7" height="12.3" fill="#1f1f1f" stroke="#0a0a0a" stroke-width="0.6"/>
<rect x="711" y="427.7" width="3.8" height="12.3" fill="#e8e8e8"/>
<rect x="714.8" y="427.7" width="4.9" height="12.3" fill="#101010"/>
<path d="M783 -2 H910.3 V232 A8 8 0 0 1 902.3 240 H791 A8 8 0 0 1 783 232 Z" fill="#121212"/>
<path d="M784.9 -2 H908.4 V231.5 A6.8 6.8 0 0 1 901.6 238.3 H791.7 A6.8 6.8 0 0 1 784.9 231.5 Z" fill="#343434"/>
<path d="M784.9 -2 H792 V235 Q786 234 784.9 229 Z" fill="#525252"/>
<path d="M900.7 -2 H908.4 V229 Q907.4 234 900.7 235 Z" fill="#525252"/>
<rect x="783" y="-2" width="127.3" height="57.2" fill="#a96c28"/>
<rect x="784.9" y="-2" width="123.5" height="56.4" fill="#d08a52"/>
<rect x="784.9" y="-2" width="7.1" height="56.4" fill="#dba06c"/>
<rect x="900.7" y="-2" width="7.7" height="56.4" fill="#dba06c"/>
<rect x="784.9" y="54" width="123.5" height="1.2" fill="#f2a462"/>
<text x="846.5" y="104.4" text-anchor="middle" font-family="Liberation Sans, sans-serif" font-size="41" fill="#ffffff">9v</text>
<rect x="985" y="361.9" width="15.2" height="80.9" rx="4" fill="#6a6a6a" stroke="#555" stroke-width="0.6"/>
<rect x="992" y="364.5" width="6" height="24.7" rx="2" fill="#7e7e7e"/>
<rect x="1000" y="399" width="30" height="8.4" fill="#9a9a9a"/>
<rect x="1000" y="401.8" width="30" height="2.4" fill="#b8b8b8"/>
<path d="M871.5 354.2 H985 A5.3 5.3 0 0 1 990.3 359.5 V449 A5.2 5.2 0 0 1 985 454.2 H871.5 Z" fill="#6d6d6d" stroke="#5a5a5a" stroke-width="0.8"/>
<rect x="875.5" y="358.6" width="112.2" height="32.8" rx="5" fill="#828282"/>
<path d="M871.5 445.4 H990 V449 A5.2 5.2 0 0 1 985 454.2 H871.5 Z" fill="#4e4e4e"/>
<rect x="971.1" y="353.8" width="4.8" height="10.2" rx="2.2" fill="#0a0a0a"/>
<rect x="971.1" y="377.2" width="4.8" height="20.8" rx="2.2" fill="#0a0a0a"/>
<rect x="971.1" y="411.1" width="4.8" height="19.7" rx="2.2" fill="#0a0a0a"/>
<rect x="971.1" y="444.6" width="4.8" height="10" rx="2.2" fill="#0a0a0a"/>
<rect x="852" y="388.6" width="6" height="31.9" fill="#dede00"/>
<rect x="857.5" y="354.2" width="14" height="100" fill="#f5f500"/>
<rect x="857.3" y="399" width="19.3" height="10.6" fill="#d9d900"/>
<rect x="851" y="402" width="1.5" height="4" fill="#4a6aaa"/>
<rect x="843.2" y="373.2" width="14.6" height="6.8" rx="1.4" fill="#ec8456"/>
<circle cx="846.8" cy="376.6" r="2.6" fill="#ffffff"/>
<circle cx="852.3" cy="374.6" r="0.6" fill="#f7b090"/>
<circle cx="855.3" cy="374.6" r="0.6" fill="#f7b090"/>
<circle cx="853.8" cy="376.6" r="0.6" fill="#f7b090"/>
<circle cx="852.3" cy="378.6" r="0.6" fill="#f7b090"/>
<circle cx="855.3" cy="378.6" r="0.6" fill="#f7b090"/>
<rect x="843.2" y="429" width="14.6" height="6.8" rx="1.4" fill="#ec8456"/>
<circle cx="846.8" cy="432.4" r="2.6" fill="#ffffff"/>
<circle cx="852.3" cy="430.4" r="0.6" fill="#f7b090"/>
<circle cx="855.3" cy="430.4" r="0.6" fill="#f7b090"/>
<circle cx="853.8" cy="432.4" r="0.6" fill="#f7b090"/>
<circle cx="852.3" cy="434.4" r="0.6" fill="#f7b090"/>
<circle cx="855.3" cy="434.4" r="0.6" fill="#f7b090"/>
<rect x="240.8" y="126.3" width="72.4" height="8" fill="#a8a8a8"/>
<rect x="248.1" y="94" width="58.1" height="79.8" fill="#b3b3b3" stroke="#9a9a9a" stroke-width="0.6"/>
<rect x="248.1" y="94" width="58.1" height="13.8" fill="#989898"/>
<path d="M86.3 127 H351.5 A3 3 0 0 1 354.5 130 V455.8 L347.2 463.5 H289.2 L275.8 476.2 H108.8 L96 462.8 H86 A2.8 2.8 0 0 1 83.2 460 V130 A3 3 0 0 1 86.3 127 Z" fill="#10728f"/>
<rect x="240.8" y="126.3" width="7.5" height="8" fill="#a8a8a8"/>
<rect x="306" y="126.3" width="7.3" height="8" fill="#a8a8a8"/>
<rect x="248.1" y="94" width="58.1" height="79.8" fill="#b3b3b3" stroke="#9a9a9a" stroke-width="0.6"/>
<rect x="248.1" y="94" width="58.1" height="13.8" fill="#999999"/>
<rect x="101.7" y="131" width="42.2" height="54" fill="#222" stroke="#111" stroke-width="0.8"/>
<rect x="101.7" y="131" width="3.5" height="54" fill="#0e0e0e"/>
<rect x="139.8" y="131" width="4.1" height="54" fill="#3c3c3c"/>
<path d="M110 131 V160 L116 172 V185 M136 131 V160 L130 172 V185" fill="none" stroke="#1a1a1a" stroke-width="1"/>
<rect x="99.9" y="118" width="45.8" height="13.7" fill="#232323" stroke="#0e0e0e" stroke-width="1"/>
<rect x="106" y="185" width="20" height="2" fill="#555"/>
<rect x="162.7" y="147.3" width="18.4" height="10" fill="#a0a0a0"/>
<rect x="157" y="174" width="6.2" height="10" fill="#a0a0a0"/>
<rect x="168.4" y="174" width="6.2" height="10" fill="#a0a0a0"/>
<rect x="180.5" y="174" width="6.2" height="10" fill="#a0a0a0"/>
<rect x="154.8" y="157" width="34.1" height="17.3" fill="#2a2a2a" stroke="#111" stroke-width="0.7"/>
<circle cx="158.5" cy="170.5" r="0.8" fill="#111"/>
<rect x="323" y="133.6" width="4.7" height="5" fill="#e6e6e6"/>
<rect x="333.4" y="133.6" width="6.3" height="5" fill="#e6e6e6"/>
<rect x="345.4" y="133.6" width="4.2" height="5" fill="#e6e6e6"/>
<rect x="323" y="175.4" width="4.7" height="5" fill="#e6e6e6"/>
<rect x="345.4" y="175.4" width="4.2" height="5" fill="#e6e6e6"/>
<rect x="319.6" y="137.7" width="33.1" height="38.4" fill="#dddddd" stroke="#c8c8c8" stroke-width="0.6"/>
<circle cx="336" cy="157" r="9" fill="#8e1c1c"/>
<text transform="translate(313 156.2) rotate(90)" text-anchor="middle" font-family="Liberation Mono, monospace" font-weight="bold" font-size="8.2" fill="#f0f0f0" letter-spacing="0.6">RESET</text>
<circle cx="96" cy="197.5" r="8.3" fill="#ffffff"/>
<circle cx="342.1" cy="204.1" r="8.3" fill="#ffffff"/>
<circle cx="121.9" cy="463.8" r="8.3" fill="#ffffff"/>
<circle cx="264.3" cy="463.8" r="8.3" fill="#ffffff"/>
<path d="M113.2 204.3 H140 L146 210.4 V230.4 L140 236.5 H113.2 Z" fill="#333"/>
<circle cx="129.8" cy="220.4" r="15.6" fill="#e3e3e3" stroke="#1a1a1a" stroke-width="0.6"/>
<path d="M121 207.5 A15.6 15.6 0 0 0 121 233.3 Z" fill="#0a0a0a"/>
<rect x="110.6" y="219.2" width="2.6" height="2.4" fill="#e8e8e8"/>
<rect x="146" y="219.2" width="2.6" height="2.4" fill="#e8e8e8"/>
<path d="M113.2 240.6 H140 L146 246.7 V266.7 L140 272.8 H113.2 Z" fill="#333"/>
<circle cx="129.8" cy="256.7" r="15.6" fill="#e3e3e3" stroke="#1a1a1a" stroke-width="0.6"/>
<path d="M121 243.8 A15.6 15.6 0 0 0 121 269.6 Z" fill="#0a0a0a"/>
<rect x="110.6" y="255.5" width="2.6" height="2.4" fill="#e8e8e8"/>
<rect x="146" y="255.5" width="2.6" height="2.4" fill="#e8e8e8"/>
<rect x="152.5" y="268.6" width="28.3" height="189" fill="#333"/>
<rect x="247.1" y="215.7" width="25" height="25.2" fill="#383434"/>
<rect x="305.9" y="200.7" width="25.3" height="11.9" rx="3.5" fill="#3e3a38"/>
<rect x="310" y="204.65" width="4" height="4" fill="#c9b47a"/>
<rect x="323" y="204.65" width="4" height="4" fill="#c9b47a"/>
<rect x="305.9" y="213.95" width="25.3" height="11.9" rx="3.5" fill="#3e3a38"/>
<rect x="310" y="217.9" width="4" height="4" fill="#c9b47a"/>
<rect x="323" y="217.9" width="4" height="4" fill="#c9b47a"/>
<rect x="305.9" y="227.2" width="25.3" height="11.9" rx="3.5" fill="#3e3a38"/>
<rect x="310" y="231.15" width="4" height="4" fill="#c9b47a"/>
<rect x="323" y="231.15" width="4" height="4" fill="#c9b47a"/>
<circle cx="331.5" cy="239.2" r="1.5" fill="none" stroke="#fff" stroke-width="1"/>
<text transform="translate(297.6 214.8) rotate(90)" text-anchor="middle" font-family="Liberation Mono, monospace" font-weight="bold" font-size="8.2" fill="#f0f0f0" letter-spacing="0.6">ICSP2</text>
<rect x="206.2" y="445" width="12.4" height="25.2" rx="3.5" fill="#3e3a38"/>
<rect x="210.4" y="449.2" width="4" height="4" fill="#c9b47a"/>
<rect x="210.4" y="462.6" width="4" height="4" fill="#c9b47a"/>
<rect x="219.3" y="445" width="12.4" height="25.2" rx="3.5" fill="#3e3a38"/>
<rect x="223.5" y="449.2" width="4" height="4" fill="#c9b47a"/>
<rect x="223.5" y="462.6" width="4" height="4" fill="#c9b47a"/>
<rect x="232.4" y="445" width="12.4" height="25.2" rx="3.5" fill="#3e3a38"/>
<rect x="236.6" y="449.2" width="4" height="4" fill="#c9b47a"/>
<rect x="236.6" y="462.6" width="4" height="4" fill="#c9b47a"/>
<text transform="translate(216.1 443.4) scale(1 1.12)" text-anchor="middle" font-family="Liberation Mono, monospace" font-weight="bold" font-size="8" fill="#f0f0f0" letter-spacing="0.3">ICSP</text>
<text transform="translate(239.7 441.5) rotate(90)" text-anchor="middle" font-family="Liberation Mono, monospace" font-weight="bold" font-size="7" fill="#f0f0f0">1</text>
<rect x="254.3" y="262.1" width="7.2" height="13" fill="#ebebe6"/>
<rect x="254.3" y="262.1" width="7.2" height="1.3" fill="#dcc070"/>
<rect x="254.3" y="273.8" width="7.2" height="1.3" fill="#dcc070"/>
<path d="M256.3 271.6 l3 -7" stroke="#c8c8c0" stroke-width="0.6"/>
<rect x="266.2" y="262.1" width="7.2" height="13" fill="#ebebe6"/>
<rect x="266.2" y="262.1" width="7.2" height="1.3" fill="#dcc070"/>
<rect x="266.2" y="273.8" width="7.2" height="1.3" fill="#dcc070"/>
<path d="M268.2 271.6 l3 -7" stroke="#c8c8c0" stroke-width="0.6"/>
<rect x="290.2" y="262.1" width="7.2" height="13" fill="#ebebe6"/>
<rect x="290.2" y="262.1" width="7.2" height="1.3" fill="#dcc070"/>
<rect x="290.2" y="273.8" width="7.2" height="1.3" fill="#dcc070"/>
<path d="M292.2 271.6 l3 -7" stroke="#c8c8c0" stroke-width="0.6"/>
<rect x="266" y="423.2" width="7.2" height="13" fill="#ebebe6"/>
<rect x="266" y="423.2" width="7.2" height="1.3" fill="#dcc070"/>
<rect x="266" y="434.9" width="7.2" height="1.3" fill="#dcc070"/>
<path d="M268 432.7 l3 -7" stroke="#c8c8c0" stroke-width="0.6"/>
<text transform="translate(253.9 252.5) rotate(90)" text-anchor="middle" font-family="Liberation Mono, monospace" font-weight="bold" font-size="8.2" fill="#f0f0f0" letter-spacing="0.6">RX</text>
<text transform="translate(266.8 252.5) rotate(90)" text-anchor="middle" font-family="Liberation Mono, monospace" font-weight="bold" font-size="8.2" fill="#f0f0f0" letter-spacing="0.6">TX</text>
<text transform="translate(290.4 256.5) rotate(90)" text-anchor="middle" font-family="Liberation Mono, monospace" font-weight="bold" font-size="7.6" fill="#f0f0f0">L</text>
<text transform="translate(266.3 443.6) rotate(90) scale(1 1.1)" text-anchor="middle" font-family="Liberation Mono, monospace" font-weight="bold" font-size="8.4" fill="#f0f0f0" letter-spacing="0.8">ON</text>
<rect x="127" y="301.2" width="2" height="65.2" fill="#fff"/>
<rect x="127" y="382" width="2" height="72.6" fill="#fff"/>
<rect x="301.4" y="260.5" width="2" height="194.2" fill="#fff"/>
<text transform="translate(119.5 354.5) rotate(90)" text-anchor="middle" font-family="Liberation Mono, monospace" font-weight="bold" font-size="7.2" fill="#f0f0f0" letter-spacing="0.2">POWER</text>
<text transform="translate(119.5 433) rotate(90)" text-anchor="middle" font-family="Liberation Mono, monospace" font-weight="bold" font-size="7.2" fill="#f0f0f0" letter-spacing="0.2">ANALOG IN</text>
<text transform="translate(305.5 391.3) rotate(90)" text-anchor="middle" font-family="Liberation Mono, monospace" font-weight="bold" font-size="7.2" fill="#f0f0f0" letter-spacing="0.3">DIGITAL (PWM=~)</text>
<path d="M275.62 327.29 L290.98 315.01 A12.30 12.30 0 1 0 275.62 315.01 L290.98 327.29 A12.30 12.30 0 1 1 275.62 327.29 Z" fill="none" stroke="#fff" stroke-width="5" stroke-linejoin="miter"/>
<rect x="281.6" y="301.1" width="3.9" height="9.6" fill="#fff"/>
<rect x="281.4" y="331.6" width="3.9" height="10.4" fill="#fff"/>
<rect x="278.2" y="334.8" width="10.4" height="3.9" fill="#fff"/>
<text transform="translate(255 318.5) rotate(90)" text-anchor="middle" font-family="Liberation Sans, sans-serif" font-weight="bold" font-size="13" fill="#f0f0f0" letter-spacing="1.2">Arduino</text>
<rect x="269.3" y="356.4" width="28.2" height="61.4" rx="14.1" fill="none" stroke="#fff" stroke-width="1.8" stroke-dasharray="1.4 1.3"/>
<text transform="translate(275.6 388.2) rotate(90)" text-anchor="middle" font-family="Liberation Sans, sans-serif" font-weight="normal" font-size="22" fill="#f0f0f0" letter-spacing="0.5" stroke="#fff" stroke-width="0.7">UNO</text>
<text transform="translate(262.3 349.5) rotate(90)" text-anchor="middle" font-family="Liberation Sans, sans-serif" font-weight="normal" font-size="3" fill="#f0f0f0">TM</text>
<rect x="89.8" y="263.3" width="12.1" height="102.5" fill="#3a3a3a" stroke="#4e3a2e" stroke-width="0.9"/>
<path d="M92.85 263.75 h6 l2.2 2.2 v6.5 l-2.2 2.2 h-6 l-2.2 -2.2 v-6.5 z" fill="#474747"/>
<rect x="93.55" y="266.9" width="4.6" height="4.6" fill="#000"/>
<path d="M92.85 276.7 h6 l2.2 2.2 v6.5 l-2.2 2.2 h-6 l-2.2 -2.2 v-6.5 z" fill="#474747"/>
<rect x="93.55" y="279.85" width="4.6" height="4.6" fill="#000"/>
<path d="M92.85 289.65 h6 l2.2 2.2 v6.5 l-2.2 2.2 h-6 l-2.2 -2.2 v-6.5 z" fill="#474747"/>
<rect x="93.55" y="292.8" width="4.6" height="4.6" fill="#000"/>
<path d="M92.85 302.6 h6 l2.2 2.2 v6.5 l-2.2 2.2 h-6 l-2.2 -2.2 v-6.5 z" fill="#474747"/>
<rect x="93.55" y="305.75" width="4.6" height="4.6" fill="#000"/>
<path d="M92.85 315.55 h6 l2.2 2.2 v6.5 l-2.2 2.2 h-6 l-2.2 -2.2 v-6.5 z" fill="#474747"/>
<circle cx="95.85" cy="321" r="2.6" fill="#0d4d0d"/>
<path d="M92.85 328.5 h6 l2.2 2.2 v6.5 l-2.2 2.2 h-6 l-2.2 -2.2 v-6.5 z" fill="#474747"/>
<circle cx="95.85" cy="333.95" r="2.6" fill="#0d4d0d"/>
<path d="M92.85 341.45 h6 l2.2 2.2 v6.5 l-2.2 2.2 h-6 l-2.2 -2.2 v-6.5 z" fill="#474747"/>
<circle cx="95.85" cy="346.9" r="2.6" fill="#0d4d0d"/>
<path d="M92.85 354.4 h6 l2.2 2.2 v6.5 l-2.2 2.2 h-6 l-2.2 -2.2 v-6.5 z" fill="#474747"/>
<rect x="93.55" y="357.55" width="4.6" height="4.6" fill="#000"/>
<rect x="89.8" y="380" width="12.1" height="76.8" fill="#3a3a3a" stroke="#4e3a2e" stroke-width="0.9"/>
<path d="M92.85 380.55 h6 l2.2 2.2 v6.5 l-2.2 2.2 h-6 l-2.2 -2.2 v-6.5 z" fill="#474747"/>
<rect x="93.55" y="383.7" width="4.6" height="4.6" fill="#000"/>
<path d="M92.85 393.5 h6 l2.2 2.2 v6.5 l-2.2 2.2 h-6 l-2.2 -2.2 v-6.5 z" fill="#474747"/>
<rect x="93.55" y="396.65" width="4.6" height="4.6" fill="#000"/>
<path d="M92.85 406.45 h6 l2.2 2.2 v6.5 l-2.2 2.2 h-6 l-2.2 -2.2 v-6.5 z" fill="#474747"/>
<rect x="93.55" y="409.6" width="4.6" height="4.6" fill="#000"/>
<path d="M92.85 419.4 h6 l2.2 2.2 v6.5 l-2.2 2.2 h-6 l-2.2 -2.2 v-6.5 z" fill="#474747"/>
<rect x="93.55" y="422.55" width="4.6" height="4.6" fill="#000"/>
<path d="M92.85 432.35 h6 l2.2 2.2 v6.5 l-2.2 2.2 h-6 l-2.2 -2.2 v-6.5 z" fill="#474747"/>
<rect x="93.55" y="435.5" width="4.6" height="4.6" fill="#000"/>
<path d="M92.85 445.3 h6 l2.2 2.2 v6.5 l-2.2 2.2 h-6 l-2.2 -2.2 v-6.5 z" fill="#474747"/>
<rect x="93.55" y="448.45" width="4.6" height="4.6" fill="#000"/>
<rect x="335.7" y="216" width="12.1" height="129.2" fill="#3a3a3a" stroke="#4e3a2e" stroke-width="0.9"/>
<path d="M338.75 216.65 h6 l2.2 2.2 v6.5 l-2.2 2.2 h-6 l-2.2 -2.2 v-6.5 z" fill="#474747"/>
<rect x="339.45" y="219.8" width="4.6" height="4.6" fill="#000"/>
<path d="M338.75 229.6 h6 l2.2 2.2 v6.5 l-2.2 2.2 h-6 l-2.2 -2.2 v-6.5 z" fill="#474747"/>
<rect x="339.45" y="232.75" width="4.6" height="4.6" fill="#000"/>
<path d="M338.75 242.55 h6 l2.2 2.2 v6.5 l-2.2 2.2 h-6 l-2.2 -2.2 v-6.5 z" fill="#474747"/>
<rect x="339.45" y="245.7" width="4.6" height="4.6" fill="#000"/>
<path d="M338.75 255.5 h6 l2.2 2.2 v6.5 l-2.2 2.2 h-6 l-2.2 -2.2 v-6.5 z" fill="#474747"/>
<circle cx="341.75" cy="260.95" r="2.6" fill="#0d4d0d"/>
<path d="M338.75 268.45 h6 l2.2 2.2 v6.5 l-2.2 2.2 h-6 l-2.2 -2.2 v-6.5 z" fill="#474747"/>
<rect x="339.45" y="271.6" width="4.6" height="4.6" fill="#000"/>
<path d="M338.75 281.4 h6 l2.2 2.2 v6.5 l-2.2 2.2 h-6 l-2.2 -2.2 v-6.5 z" fill="#474747"/>
<rect x="339.45" y="284.55" width="4.6" height="4.6" fill="#000"/>
<path d="M338.75 294.35 h6 l2.2 2.2 v6.5 l-2.2 2.2 h-6 l-2.2 -2.2 v-6.5 z" fill="#474747"/>
<rect x="339.45" y="297.5" width="4.6" height="4.6" fill="#000"/>
<path d="M338.75 307.3 h6 l2.2 2.2 v6.5 l-2.2 2.2 h-6 l-2.2 -2.2 v-6.5 z" fill="#474747"/>
<rect x="339.45" y="310.45" width="4.6" height="4.6" fill="#000"/>
<path d="M338.75 320.25 h6 l2.2 2.2 v6.5 l-2.2 2.2 h-6 l-2.2 -2.2 v-6.5 z" fill="#474747"/>
<rect x="339.45" y="323.4" width="4.6" height="4.6" fill="#000"/>
<path d="M338.75 333.2 h6 l2.2 2.2 v6.5 l-2.2 2.2 h-6 l-2.2 -2.2 v-6.5 z" fill="#474747"/>
<rect x="339.45" y="336.35" width="4.6" height="4.6" fill="#000"/>
<rect x="335.7" y="354" width="12.1" height="102.9" fill="#3a3a3a" stroke="#4e3a2e" stroke-width="0.9"/>
<path d="M338.75 354.55 h6 l2.2 2.2 v6.5 l-2.2 2.2 h-6 l-2.2 -2.2 v-6.5 z" fill="#474747"/>
<rect x="339.45" y="357.7" width="4.6" height="4.6" fill="#000"/>
<path d="M338.75 367.5 h6 l2.2 2.2 v6.5 l-2.2 2.2 h-6 l-2.2 -2.2 v-6.5 z" fill="#474747"/>
<rect x="339.45" y="370.65" width="4.6" height="4.6" fill="#000"/>
<path d="M338.75 380.45 h6 l2.2 2.2 v6.5 l-2.2 2.2 h-6 l-2.2 -2.2 v-6.5 z" fill="#474747"/>
<rect x="339.45" y="383.6" width="4.6" height="4.6" fill="#000"/>
<path d="M338.75 393.4 h6 l2.2 2.2 v6.5 l-2.2 2.2 h-6 l-2.2 -2.2 v-6.5 z" fill="#474747"/>
<rect x="339.45" y="396.55" width="4.6" height="4.6" fill="#000"/>
<path d="M338.75 406.35 h6 l2.2 2.2 v6.5 l-2.2 2.2 h-6 l-2.2 -2.2 v-6.5 z" fill="#474747"/>
<rect x="339.45" y="409.5" width="4.6" height="4.6" fill="#000"/>
<path d="M338.75 419.3 h6 l2.2 2.2 v6.5 l-2.2 2.2 h-6 l-2.2 -2.2 v-6.5 z" fill="#474747"/>
<rect x="339.45" y="422.45" width="4.6" height="4.6" fill="#000"/>
<path d="M338.75 432.25 h6 l2.2 2.2 v6.5 l-2.2 2.2 h-6 l-2.2 -2.2 v-6.5 z" fill="#474747"/>
<rect x="339.45" y="435.4" width="4.6" height="4.6" fill="#000"/>
<path d="M338.75 445.2 h6 l2.2 2.2 v6.5 l-2.2 2.2 h-6 l-2.2 -2.2 v-6.5 z" fill="#474747"/>
<rect x="339.45" y="448.35" width="4.6" height="4.6" fill="#000"/>
<text transform="translate(104.7 284.8) scale(1 1.12)" text-anchor="start" font-family="Liberation Mono, monospace" font-weight="bold" font-size="7.1" fill="#f0f0f0" letter-spacing="0.2">IOREF</text>
<text transform="translate(104.7 297.75) scale(1 1.12)" text-anchor="start" font-family="Liberation Mono, monospace" font-weight="bold" font-size="7.1" fill="#f0f0f0" letter-spacing="0.2">RESET</text>
<text transform="translate(104.7 310.7) scale(1 1.12)" text-anchor="start" font-family="Liberation Mono, monospace" font-weight="bold" font-size="7.1" fill="#f0f0f0" letter-spacing="0.2">3V3</text>
<text transform="translate(104.7 323.65) scale(1 1.12)" text-anchor="start" font-family="Liberation Mono, monospace" font-weight="bold" font-size="7.1" fill="#f0f0f0" letter-spacing="0.2">5V</text>
<text transform="translate(104.7 336.6) scale(1 1.12)" text-anchor="start" font-family="Liberation Mono, monospace" font-weight="bold" font-size="7.1" fill="#f0f0f0" letter-spacing="0.2">GND</text>
<text transform="translate(104.7 349.55) scale(1 1.12)" text-anchor="start" font-family="Liberation Mono, monospace" font-weight="bold" font-size="7.1" fill="#f0f0f0" letter-spacing="0.2">GND</text>
<text transform="translate(104.7 362.5) scale(1 1.12)" text-anchor="start" font-family="Liberation Mono, monospace" font-weight="bold" font-size="7.1" fill="#f0f0f0" letter-spacing="0.2">VIN</text>
<text transform="translate(104.7 388.7) scale(1 1.12)" text-anchor="start" font-family="Liberation Mono, monospace" font-weight="bold" font-size="7.1" fill="#f0f0f0" letter-spacing="0.2">AO</text>
<text transform="translate(104.7 401.65) scale(1 1.12)" text-anchor="start" font-family="Liberation Mono, monospace" font-weight="bold" font-size="7.1" fill="#f0f0f0" letter-spacing="0.2">A1</text>
<text transform="translate(104.7 414.6) scale(1 1.12)" text-anchor="start" font-family="Liberation Mono, monospace" font-weight="bold" font-size="7.1" fill="#f0f0f0" letter-spacing="0.2">A2</text>
<text transform="translate(104.7 427.55) scale(1 1.12)" text-anchor="start" font-family="Liberation Mono, monospace" font-weight="bold" font-size="7.1" fill="#f0f0f0" letter-spacing="0.2">A3</text>
<text transform="translate(104.7 440.5) scale(1 1.12)" text-anchor="start" font-family="Liberation Mono, monospace" font-weight="bold" font-size="7.1" fill="#f0f0f0" letter-spacing="0.2">A4</text>
<text transform="translate(104.7 453.45) scale(1 1.12)" text-anchor="start" font-family="Liberation Mono, monospace" font-weight="bold" font-size="7.1" fill="#f0f0f0" letter-spacing="0.2">A5</text>
<text transform="translate(333.1 250.9) scale(1 1.12)" text-anchor="end" font-family="Liberation Mono, monospace" font-weight="bold" font-size="7.1" fill="#f0f0f0" letter-spacing="0.35">AREF</text>
<text transform="translate(333.1 263.85) scale(1 1.12)" text-anchor="end" font-family="Liberation Mono, monospace" font-weight="bold" font-size="7.1" fill="#f0f0f0" letter-spacing="0.35">GND</text>
<text transform="translate(333.1 276.8) scale(1 1.12)" text-anchor="end" font-family="Liberation Mono, monospace" font-weight="bold" font-size="7.1" fill="#f0f0f0" letter-spacing="0.35">13</text>
<text transform="translate(333.1 289.75) scale(1 1.12)" text-anchor="end" font-family="Liberation Mono, monospace" font-weight="bold" font-size="7.1" fill="#f0f0f0" letter-spacing="0.35">12</text>
<text transform="translate(333.1 302.7) scale(1 1.12)" text-anchor="end" font-family="Liberation Mono, monospace" font-weight="bold" font-size="7.1" fill="#f0f0f0" letter-spacing="0.35">11</text>
<text transform="translate(322.58 302.7) scale(1 1.12)" text-anchor="end" font-family="Liberation Mono, monospace" font-weight="bold" font-size="7.1" fill="#f0f0f0">~</text>
<text transform="translate(333.1 315.65) scale(1 1.12)" text-anchor="end" font-family="Liberation Mono, monospace" font-weight="bold" font-size="7.1" fill="#f0f0f0" letter-spacing="0.35">1O</text>
<text transform="translate(322.58 315.65) scale(1 1.12)" text-anchor="end" font-family="Liberation Mono, monospace" font-weight="bold" font-size="7.1" fill="#f0f0f0">~</text>
<text transform="translate(333.1 328.6) scale(1 1.12)" text-anchor="end" font-family="Liberation Mono, monospace" font-weight="bold" font-size="7.1" fill="#f0f0f0" letter-spacing="0.35">9</text>
<text transform="translate(327.19 328.6) scale(1 1.12)" text-anchor="end" font-family="Liberation Mono, monospace" font-weight="bold" font-size="7.1" fill="#f0f0f0">~</text>
<text transform="translate(333.1 341.55) scale(1 1.12)" text-anchor="end" font-family="Liberation Mono, monospace" font-weight="bold" font-size="7.1" fill="#f0f0f0" letter-spacing="0.35">8</text>
<text transform="translate(333.1 362.7) scale(1 1.12)" text-anchor="end" font-family="Liberation Mono, monospace" font-weight="bold" font-size="7.1" fill="#f0f0f0" letter-spacing="0.35">7</text>
<text transform="translate(333.1 375.65) scale(1 1.12)" text-anchor="end" font-family="Liberation Mono, monospace" font-weight="bold" font-size="7.1" fill="#f0f0f0" letter-spacing="0.35">6</text>
<text transform="translate(327.19 375.65) scale(1 1.12)" text-anchor="end" font-family="Liberation Mono, monospace" font-weight="bold" font-size="7.1" fill="#f0f0f0">~</text>
<text transform="translate(333.1 388.6) scale(1 1.12)" text-anchor="end" font-family="Liberation Mono, monospace" font-weight="bold" font-size="7.1" fill="#f0f0f0" letter-spacing="0.35">5</text>
<text transform="translate(327.19 388.6) scale(1 1.12)" text-anchor="end" font-family="Liberation Mono, monospace" font-weight="bold" font-size="7.1" fill="#f0f0f0">~</text>
<text transform="translate(333.1 401.55) scale(1 1.12)" text-anchor="end" font-family="Liberation Mono, monospace" font-weight="bold" font-size="7.1" fill="#f0f0f0" letter-spacing="0.35">4</text>
<text transform="translate(333.1 414.5) scale(1 1.12)" text-anchor="end" font-family="Liberation Mono, monospace" font-weight="bold" font-size="7.1" fill="#f0f0f0" letter-spacing="0.35">3</text>
<text transform="translate(327.19 414.5) scale(1 1.12)" text-anchor="end" font-family="Liberation Mono, monospace" font-weight="bold" font-size="7.1" fill="#f0f0f0">~</text>
<text transform="translate(333.1 427.45) scale(1 1.12)" text-anchor="end" font-family="Liberation Mono, monospace" font-weight="bold" font-size="7.1" fill="#f0f0f0" letter-spacing="0.35">2</text>
<text transform="translate(334 440.4) scale(1 1.12)" text-anchor="end" font-family="Liberation Mono, monospace" font-weight="bold" font-size="7.1" fill="#f0f0f0" letter-spacing="1.0">TXO&#9654;1</text>
<text transform="translate(334 453.35) scale(1 1.12)" text-anchor="end" font-family="Liberation Mono, monospace" font-weight="bold" font-size="7.1" fill="#f0f0f0" letter-spacing="1.0">RXO&#9664;O</text>
<path d="M96.2 334 L5.7 335.5 L5.7 23.3 L496 23.3 L510.5 93.3" fill="none" stroke="#0c0c0c" stroke-width="5.6" stroke-linejoin="round" stroke-linecap="round"/>
<path d="M96.2 334 L5.7 335.5 L5.7 23.3 L496 23.3 L510.5 93.3" fill="none" stroke="#484848" stroke-width="3.0" stroke-linejoin="round" stroke-linecap="butt"/>
<circle cx="96.2" cy="334" r="2.4" fill="#3f8f3f" opacity="0.55"/>
<circle cx="96.2" cy="334" r="3.3" fill="none" stroke="#2ee62e" stroke-width="1.1"/>
<circle cx="510.5" cy="93.3" r="2.4" fill="#3f8f3f" opacity="0.55"/>
<circle cx="510.5" cy="93.3" r="3.3" fill="none" stroke="#2ee62e" stroke-width="1.1"/>
<path d="M96.2 321 L18.6 322.5 L18.6 50 L445.8 50 L445.8 100.9 L497.5 93.3" fill="none" stroke="#8a0808" stroke-width="5.6" stroke-linejoin="round" stroke-linecap="round"/>
<path d="M96.2 321 L18.6 322.5 L18.6 50 L445.8 50 L445.8 100.9 L497.5 93.3" fill="none" stroke="#cf1414" stroke-width="3.0" stroke-linejoin="round" stroke-linecap="butt"/>
<circle cx="96.2" cy="321" r="2.4" fill="#3f8f3f" opacity="0.55"/>
<circle cx="96.2" cy="321" r="3.3" fill="none" stroke="#2ee62e" stroke-width="1.1"/>
<circle cx="497.5" cy="93.3" r="2.4" fill="#3f8f3f" opacity="0.55"/>
<circle cx="497.5" cy="93.3" r="3.3" fill="none" stroke="#2ee62e" stroke-width="1.1"/>
<path d="M497.5 132.3 L548.9 140.9" fill="none" stroke="#8a0808" stroke-width="5.6" stroke-linejoin="round" stroke-linecap="round"/>
<path d="M497.5 132.3 L548.9 140.9" fill="none" stroke="#cf1414" stroke-width="3.0" stroke-linejoin="round" stroke-linecap="butt"/>
<circle cx="497.5" cy="132.3" r="2.4" fill="#3f8f3f" opacity="0.55"/>
<circle cx="497.5" cy="132.3" r="3.3" fill="none" stroke="#2ee62e" stroke-width="1.1"/>
<circle cx="548.9" cy="140.9" r="2.4" fill="#3f8f3f" opacity="0.55"/>
<circle cx="548.9" cy="140.9" r="3.3" fill="none" stroke="#2ee62e" stroke-width="1.1"/>
<path d="M510.5 223.3 L548.9 218.8" fill="none" stroke="#0c0c0c" stroke-width="5.6" stroke-linejoin="round" stroke-linecap="round"/>
<path d="M510.5 223.3 L548.9 218.8" fill="none" stroke="#484848" stroke-width="3.0" stroke-linejoin="round" stroke-linecap="butt"/>
<circle cx="510.5" cy="223.3" r="2.4" fill="#3f8f3f" opacity="0.55"/>
<circle cx="510.5" cy="223.3" r="3.3" fill="none" stroke="#2ee62e" stroke-width="1.1"/>
<circle cx="548.9" cy="218.8" r="2.4" fill="#3f8f3f" opacity="0.55"/>
<circle cx="548.9" cy="218.8" r="3.3" fill="none" stroke="#2ee62e" stroke-width="1.1"/>
<path d="M510.5 327.3 L548.9 322.6" fill="none" stroke="#0c0c0c" stroke-width="5.6" stroke-linejoin="round" stroke-linecap="round"/>
<path d="M510.5 327.3 L548.9 322.6" fill="none" stroke="#484848" stroke-width="3.0" stroke-linejoin="round" stroke-linecap="butt"/>
<circle cx="510.5" cy="327.3" r="2.4" fill="#3f8f3f" opacity="0.55"/>
<circle cx="510.5" cy="327.3" r="3.3" fill="none" stroke="#2ee62e" stroke-width="1.1"/>
<circle cx="548.9" cy="322.6" r="2.4" fill="#3f8f3f" opacity="0.55"/>
<circle cx="548.9" cy="322.6" r="3.3" fill="none" stroke="#2ee62e" stroke-width="1.1"/>
<path d="M342 326.3 L548.9 296.7" fill="none" stroke="#d8d800" stroke-width="5.6" stroke-linejoin="round" stroke-linecap="round"/>
<path d="M342 326.3 L548.9 296.7" fill="none" stroke="#ffff00" stroke-width="3.0" stroke-linejoin="round" stroke-linecap="butt"/>
<circle cx="342" cy="326.3" r="2.4" fill="#3f8f3f" opacity="0.55"/>
<circle cx="342" cy="326.3" r="3.3" fill="none" stroke="#2ee62e" stroke-width="1.1"/>
<circle cx="548.9" cy="296.7" r="2.4" fill="#3f8f3f" opacity="0.55"/>
<circle cx="548.9" cy="296.7" r="3.3" fill="none" stroke="#2ee62e" stroke-width="1.1"/>
<path d="M342 398.8 L561.9 361.6" fill="none" stroke="#1048b0" stroke-width="5.6" stroke-linejoin="round" stroke-linecap="round"/>
<path d="M342 398.8 L561.9 361.6" fill="none" stroke="#3a82e0" stroke-width="3.0" stroke-linejoin="round" stroke-linecap="butt"/>
<circle cx="342" cy="398.8" r="2.4" fill="#3f8f3f" opacity="0.55"/>
<circle cx="342" cy="398.8" r="3.3" fill="none" stroke="#2ee62e" stroke-width="1.1"/>
<circle cx="561.9" cy="361.6" r="2.4" fill="#3f8f3f" opacity="0.55"/>
<circle cx="561.9" cy="361.6" r="3.3" fill="none" stroke="#2ee62e" stroke-width="1.1"/>
<path d="M342 411.7 L561.9 413.5" fill="none" stroke="#1048b0" stroke-width="5.6" stroke-linejoin="round" stroke-linecap="round"/>
<path d="M342 411.7 L561.9 413.5" fill="none" stroke="#3a82e0" stroke-width="3.0" stroke-linejoin="round" stroke-linecap="butt"/>
<circle cx="342" cy="411.7" r="2.4" fill="#3f8f3f" opacity="0.55"/>
<circle cx="342" cy="411.7" r="3.3" fill="none" stroke="#2ee62e" stroke-width="1.1"/>
<circle cx="561.9" cy="413.5" r="2.4" fill="#3f8f3f" opacity="0.55"/>
<circle cx="561.9" cy="413.5" r="3.3" fill="none" stroke="#2ee62e" stroke-width="1.1"/>
<path d="M342 425.2 L548.9 167" fill="none" stroke="#10a818" stroke-width="5.6" stroke-linejoin="round" stroke-linecap="round"/>
<path d="M342 425.2 L548.9 167" fill="none" stroke="#2acc2c" stroke-width="3.0" stroke-linejoin="round" stroke-linecap="butt"/>
<circle cx="342" cy="425.2" r="2.4" fill="#3f8f3f" opacity="0.55"/>
<circle cx="342" cy="425.2" r="3.3" fill="none" stroke="#2ee62e" stroke-width="1.1"/>
<circle cx="548.9" cy="167" r="2.4" fill="#3f8f3f" opacity="0.55"/>
<circle cx="548.9" cy="167" r="3.3" fill="none" stroke="#2ee62e" stroke-width="1.1"/>
<path d="M574.9 309.7 L599.7 399.2 L639.6 439.5" fill="none" stroke="#10a818" stroke-width="5.6" stroke-linejoin="round" stroke-linecap="round"/>
<path d="M574.9 309.7 L599.7 399.2 L639.6 439.5" fill="none" stroke="#2acc2c" stroke-width="3.0" stroke-linejoin="round" stroke-linecap="butt"/>
<circle cx="574.9" cy="309.7" r="2.4" fill="#3f8f3f" opacity="0.55"/>
<circle cx="574.9" cy="309.7" r="3.3" fill="none" stroke="#2ee62e" stroke-width="1.1"/>
<circle cx="639.6" cy="439.5" r="2.4" fill="#3f8f3f" opacity="0.55"/>
<circle cx="639.6" cy="439.5" r="3.3" fill="none" stroke="#2ee62e" stroke-width="1.1"/>
<path d="M510.5 457.3 L743.2 457.3" fill="none" stroke="#0c0c0c" stroke-width="5.6" stroke-linejoin="round" stroke-linecap="round"/>
<path d="M510.5 457.3 L743.2 457.3" fill="none" stroke="#484848" stroke-width="3.0" stroke-linejoin="round" stroke-linecap="butt"/>
<circle cx="510.5" cy="457.3" r="2.4" fill="#3f8f3f" opacity="0.55"/>
<circle cx="510.5" cy="457.3" r="3.3" fill="none" stroke="#2ee62e" stroke-width="1.1"/>
<circle cx="743.2" cy="457.3" r="2.4" fill="#3f8f3f" opacity="0.55"/>
<circle cx="743.2" cy="457.3" r="3.3" fill="none" stroke="#2ee62e" stroke-width="1.1"/>
<path d="M652.4 439.5 L640.4 529.2 L808.3 529.2 L808.3 413.6" fill="none" stroke="#0c0c0c" stroke-width="5.6" stroke-linejoin="round" stroke-linecap="round"/>
<path d="M652.4 439.5 L640.4 529.2 L808.3 529.2 L808.3 413.6" fill="none" stroke="#484848" stroke-width="3.0" stroke-linejoin="round" stroke-linecap="butt"/>
<circle cx="652.4" cy="439.5" r="2.4" fill="#3f8f3f" opacity="0.55"/>
<circle cx="652.4" cy="439.5" r="3.3" fill="none" stroke="#2ee62e" stroke-width="1.1"/>
<circle cx="808.3" cy="413.6" r="2.4" fill="#3f8f3f" opacity="0.55"/>
<circle cx="808.3" cy="413.6" r="3.3" fill="none" stroke="#2ee62e" stroke-width="1.1"/>
<path d="M730.4 379.3 L765.4 369.6" fill="none" stroke="#8a0808" stroke-width="5.6" stroke-linejoin="round" stroke-linecap="round"/>
<path d="M730.4 379.3 L765.4 369.6" fill="none" stroke="#cf1414" stroke-width="3.0" stroke-linejoin="round" stroke-linecap="butt"/>
<circle cx="730.4" cy="379.3" r="2.4" fill="#3f8f3f" opacity="0.55"/>
<circle cx="730.4" cy="379.3" r="3.3" fill="none" stroke="#2ee62e" stroke-width="1.1"/>
<circle cx="765.4" cy="369.6" r="2.4" fill="#3f8f3f" opacity="0.55"/>
<circle cx="765.4" cy="369.6" r="3.3" fill="none" stroke="#2ee62e" stroke-width="1.1"/>
<path d="M720 39 L730.4 93.3" fill="none" stroke="#8a0808" stroke-width="5.6" stroke-linejoin="round" stroke-linecap="round"/>
<path d="M720 39 L730.4 93.3" fill="none" stroke="#cf1414" stroke-width="3.0" stroke-linejoin="round" stroke-linecap="butt"/>
<circle cx="720" cy="39" r="2.4" fill="#3f8f3f" opacity="0.55"/>
<circle cx="720" cy="39" r="3.3" fill="none" stroke="#2ee62e" stroke-width="1.1"/>
<circle cx="730.4" cy="93.3" r="2.4" fill="#3f8f3f" opacity="0.55"/>
<circle cx="730.4" cy="93.3" r="3.3" fill="none" stroke="#2ee62e" stroke-width="1.1"/>
<path d="M746.9 50.7 L743.2 93.3" fill="none" stroke="#0c0c0c" stroke-width="5.6" stroke-linejoin="round" stroke-linecap="round"/>
<path d="M746.9 50.7 L743.2 93.3" fill="none" stroke="#484848" stroke-width="3.0" stroke-linejoin="round" stroke-linecap="butt"/>
<circle cx="746.9" cy="50.7" r="2.4" fill="#3f8f3f" opacity="0.55"/>
<circle cx="746.9" cy="50.7" r="3.3" fill="none" stroke="#2ee62e" stroke-width="1.1"/>
<circle cx="743.2" cy="93.3" r="2.4" fill="#3f8f3f" opacity="0.55"/>
<circle cx="743.2" cy="93.3" r="3.3" fill="none" stroke="#2ee62e" stroke-width="1.1"/>
<path d="M722 38.5 L901 -1.5" stroke="#ff0000" stroke-width="4.8" fill="none"/>
<path d="M748 50.2 L954 -1.5" stroke="#000000" stroke-width="5" fill="none"/>
<path d="M722 38.5 L731 36.5" stroke="#6db56d" stroke-width="4" fill="none"/>
<path d="M748 50.2 L757 48" stroke="#6db56d" stroke-width="4" fill="none"/>
<path d="M765.4 369.6 L811.5 398.7 Q818 402 824 390 Q832 376 843 376.4" stroke="#2aae3e" stroke-width="4.8" fill="none" stroke-linejoin="round"/>
<path d="M765.4 369.6 L773.5 373.6" stroke="#8aa88a" stroke-width="4.8" fill="none"/>
<path d="M808.3 413.6 Q815 413 822 420 Q832 432 843 432" stroke="#f5c400" stroke-width="4.6" fill="none"/>
</svg></body></html>
